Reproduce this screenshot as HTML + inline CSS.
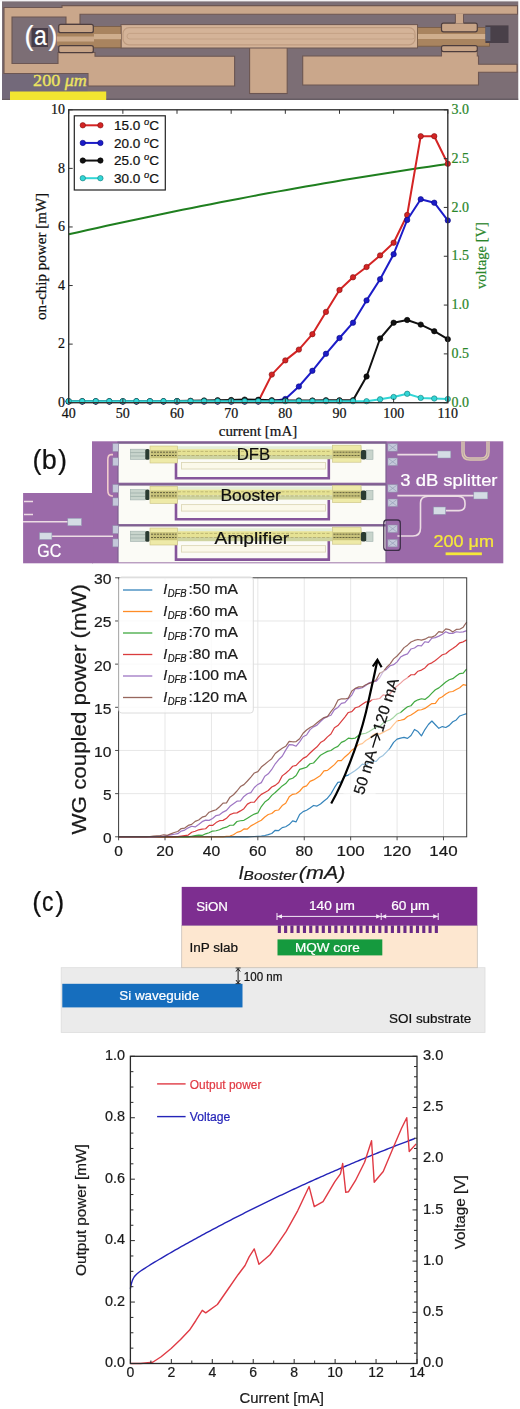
<!DOCTYPE html>
<html><head><meta charset="utf-8"><style>
html,body{margin:0;padding:0;background:#fff;}
body{width:520px;height:1409px;overflow:hidden;font-family:"Liberation Sans",sans-serif;}
svg{display:block;}
</style></head><body>
<svg width="520" height="1409" viewBox="0 0 520 1409">
<rect width="520" height="1409" fill="#fff"/>
<defs><filter id="mblur" x="-2%" y="-2%" width="104%" height="104%"><feGaussianBlur stdDeviation="0.45"/></filter></defs><g filter="url(#mblur)">
<rect x="2" y="0" width="516.5" height="100" fill="#7b6e74"/>
<rect x="2" y="98.5" width="516.5" height="1.5" fill="#665c64"/>
<rect x="0" y="0" width="520" height="1.4" fill="#f4f2f4"/>
<path d="M4 7.5 H62 V5.6 H517.5 V14.2 H80 V24.4 H66 V17 H12 V63.5 H58 V52.5 H95 V56.3 H234.6 V86 H88 V73.5 H4 Z" fill="#caa78b" stroke="#6c5652" stroke-width="1.1"/>
<path d="M302.7 56 H441.5 V51 H477.3 V56 H478.5 V64.2 H517 V72.3 H478.5 V85 H302.7 Z" fill="#caa78b" stroke="#6c5652" stroke-width="1.1"/>
<rect x="2" y="74.1" width="85.4" height="24.4" fill="#73697a"/>
<rect x="249.6" y="44" width="37.6" height="49.5" fill="#caa78b" stroke="#6c5652" stroke-width="1.1"/>
<rect x="121" y="24.6" width="296.5" height="23.4" fill="#d4b398" stroke="#6c5652" stroke-width="1.0"/>
<rect x="123" y="27.6" width="292" height="17.2" rx="6" fill="none" stroke="#bf9c80" stroke-width="1.2"/>
<rect x="127" y="33.4" width="288" height="5.6" rx="2.8" fill="none" stroke="#c4a286" stroke-width="1"/>
<rect x="93" y="26.5" width="28" height="21.3" fill="#a9845f" stroke="#7a5e48" stroke-width="0.9"/>
<rect x="94" y="34" width="27" height="5.2" fill="#cfae8d"/>
<rect x="57" y="32.7" width="37" height="13" fill="#a9845f"/>
<rect x="57" y="36.5" width="37" height="5" fill="#cba98a"/>
<rect x="58.7" y="24.4" width="34.6" height="8.3" fill="#c7a487" stroke="#4e3e3e" stroke-width="1.2" rx="2"/>
<rect x="58.7" y="45.6" width="34.6" height="7.1" fill="#c7a487" stroke="#4e3e3e" stroke-width="1.2" rx="2"/>
<rect x="417.5" y="27.5" width="72" height="18.7" fill="#a9845f" stroke="#7a5e48" stroke-width="0.9"/>
<rect x="418" y="34" width="72" height="5" fill="#cfae8d"/>
<rect x="441.5" y="23.1" width="35.8" height="8.7" fill="#c7a487" stroke="#4e3e3e" stroke-width="1.2" rx="2"/>
<rect x="441.5" y="45.6" width="35.8" height="6" fill="#c7a487" stroke="#4e3e3e" stroke-width="1.2" rx="2"/>
<rect x="455.4" y="13.6" width="8.1" height="10" fill="#caa78b"/>
<path d="M455.4 14.2 V23.1 M463.5 14.2 V23.1" stroke="#6c5652" stroke-width="1"/>
<rect x="485.4" y="25.4" width="23.1" height="17.6" fill="#4a4048"/>
<rect x="485.4" y="27" width="5" height="14" fill="#6a7088" opacity="0.7"/>
<rect x="518.5" y="0" width="1.5" height="100" fill="#fff"/>
</g>
<rect x="31.5" y="28" width="16.5" height="19" fill="#463e48" filter="url(#mblur)"/>
<text x="24.5" y="45.3" font-family="Liberation Sans" font-size="27" fill="#fff" stroke="#fff" stroke-width="0.22">(</text>
<text x="33.9" y="45.3" font-family="Liberation Sans" font-size="27" fill="#fff" textLength="12.8" lengthAdjust="spacingAndGlyphs" stroke="#fff" stroke-width="0.22">a</text>
<text x="48.5" y="45.3" font-family="Liberation Sans" font-size="27" fill="#fff" stroke="#fff" stroke-width="0.22">)</text>
<rect x="10" y="91.5" width="96.2" height="8.5" fill="#f2e531"/>
<text x="33.1" y="86.2" font-family="Liberation Serif" font-size="17" fill="#eee460" textLength="53.8" lengthAdjust="spacingAndGlyphs" stroke="#eee460" stroke-width="0.35">200 <tspan font-style="italic">μm</tspan></text>
<polyline fill="none" stroke="#1f7f1f" stroke-width="2" points="68.7,234.34 78.18,232.18 87.66,230.05 97.13,227.94 106.61,225.85 116.09,223.77 125.57,221.72 135.04,219.69 144.52,217.68 154,215.69 163.48,213.72 172.95,211.76 182.43,209.83 191.91,207.92 201.38,206.03 210.86,204.16 220.34,202.31 229.82,200.47 239.3,198.66 248.77,196.87 258.25,195.1 267.73,193.35 277.21,191.62 286.68,189.91 296.16,188.22 305.64,186.55 315.12,184.9 324.59,183.27 334.07,181.66 343.55,180.06 353.02,178.49 362.5,176.94 371.98,175.41 381.46,173.9 390.94,172.41 400.41,170.94 409.89,169.49 419.37,168.06 428.85,166.65 438.32,165.26 447.8,163.89"/>
<polyline fill="none" stroke="#d42424" stroke-width="2" stroke-linejoin="round" points="68.7,401.6 82.24,401.6 95.78,401.6 109.32,401.6 122.86,401.6 136.4,401.6 149.94,401.6 163.48,401.6 177.01,401.6 190.55,401.6 204.09,401.6 217.63,401.6 231.17,401.6 244.71,401.6 258.25,401.5 271.79,374.6 285.33,360.4 298.87,349.6 312.41,334.2 325.95,311.9 339.49,290 353.02,277.3 366.56,267 380.1,255.4 393.64,242.7 407.18,215 420.72,136.2 434.26,136.2 447.8,163.8"/>
<circle cx="68.7" cy="401.6" r="2.7" fill="#d42424" stroke="#801010" stroke-width="0.6"/>
<circle cx="82.24" cy="401.6" r="2.7" fill="#d42424" stroke="#801010" stroke-width="0.6"/>
<circle cx="95.78" cy="401.6" r="2.7" fill="#d42424" stroke="#801010" stroke-width="0.6"/>
<circle cx="109.32" cy="401.6" r="2.7" fill="#d42424" stroke="#801010" stroke-width="0.6"/>
<circle cx="122.86" cy="401.6" r="2.7" fill="#d42424" stroke="#801010" stroke-width="0.6"/>
<circle cx="136.4" cy="401.6" r="2.7" fill="#d42424" stroke="#801010" stroke-width="0.6"/>
<circle cx="149.94" cy="401.6" r="2.7" fill="#d42424" stroke="#801010" stroke-width="0.6"/>
<circle cx="163.48" cy="401.6" r="2.7" fill="#d42424" stroke="#801010" stroke-width="0.6"/>
<circle cx="177.01" cy="401.6" r="2.7" fill="#d42424" stroke="#801010" stroke-width="0.6"/>
<circle cx="190.55" cy="401.6" r="2.7" fill="#d42424" stroke="#801010" stroke-width="0.6"/>
<circle cx="204.09" cy="401.6" r="2.7" fill="#d42424" stroke="#801010" stroke-width="0.6"/>
<circle cx="217.63" cy="401.6" r="2.7" fill="#d42424" stroke="#801010" stroke-width="0.6"/>
<circle cx="231.17" cy="401.6" r="2.7" fill="#d42424" stroke="#801010" stroke-width="0.6"/>
<circle cx="244.71" cy="401.6" r="2.7" fill="#d42424" stroke="#801010" stroke-width="0.6"/>
<circle cx="258.25" cy="401.5" r="2.7" fill="#d42424" stroke="#801010" stroke-width="0.6"/>
<circle cx="271.79" cy="374.6" r="2.7" fill="#d42424" stroke="#801010" stroke-width="0.6"/>
<circle cx="285.33" cy="360.4" r="2.7" fill="#d42424" stroke="#801010" stroke-width="0.6"/>
<circle cx="298.87" cy="349.6" r="2.7" fill="#d42424" stroke="#801010" stroke-width="0.6"/>
<circle cx="312.41" cy="334.2" r="2.7" fill="#d42424" stroke="#801010" stroke-width="0.6"/>
<circle cx="325.95" cy="311.9" r="2.7" fill="#d42424" stroke="#801010" stroke-width="0.6"/>
<circle cx="339.49" cy="290" r="2.7" fill="#d42424" stroke="#801010" stroke-width="0.6"/>
<circle cx="353.02" cy="277.3" r="2.7" fill="#d42424" stroke="#801010" stroke-width="0.6"/>
<circle cx="366.56" cy="267" r="2.7" fill="#d42424" stroke="#801010" stroke-width="0.6"/>
<circle cx="380.1" cy="255.4" r="2.7" fill="#d42424" stroke="#801010" stroke-width="0.6"/>
<circle cx="393.64" cy="242.7" r="2.7" fill="#d42424" stroke="#801010" stroke-width="0.6"/>
<circle cx="407.18" cy="215" r="2.7" fill="#d42424" stroke="#801010" stroke-width="0.6"/>
<circle cx="420.72" cy="136.2" r="2.7" fill="#d42424" stroke="#801010" stroke-width="0.6"/>
<circle cx="434.26" cy="136.2" r="2.7" fill="#d42424" stroke="#801010" stroke-width="0.6"/>
<circle cx="447.8" cy="163.8" r="2.7" fill="#d42424" stroke="#801010" stroke-width="0.6"/>
<polyline fill="none" stroke="#1c1cc8" stroke-width="2" stroke-linejoin="round" points="68.7,401.5 82.24,401.5 95.78,401.5 109.32,401.5 122.86,401.5 136.4,401.5 149.94,401.5 163.48,401.5 177.01,401.5 190.55,401.5 204.09,401.5 217.63,401.5 231.17,401.5 244.71,401.5 258.25,401.5 271.79,401.2 285.33,399 298.87,386.5 312.41,370.8 325.95,353.8 339.49,338 353.02,322.7 366.56,300.4 380.1,279.2 393.64,254.2 407.18,220 420.72,199.2 434.26,202.7 447.8,220.4"/>
<circle cx="68.7" cy="401.5" r="2.7" fill="#1c1cc8" stroke="#0a0a80" stroke-width="0.6"/>
<circle cx="82.24" cy="401.5" r="2.7" fill="#1c1cc8" stroke="#0a0a80" stroke-width="0.6"/>
<circle cx="95.78" cy="401.5" r="2.7" fill="#1c1cc8" stroke="#0a0a80" stroke-width="0.6"/>
<circle cx="109.32" cy="401.5" r="2.7" fill="#1c1cc8" stroke="#0a0a80" stroke-width="0.6"/>
<circle cx="122.86" cy="401.5" r="2.7" fill="#1c1cc8" stroke="#0a0a80" stroke-width="0.6"/>
<circle cx="136.4" cy="401.5" r="2.7" fill="#1c1cc8" stroke="#0a0a80" stroke-width="0.6"/>
<circle cx="149.94" cy="401.5" r="2.7" fill="#1c1cc8" stroke="#0a0a80" stroke-width="0.6"/>
<circle cx="163.48" cy="401.5" r="2.7" fill="#1c1cc8" stroke="#0a0a80" stroke-width="0.6"/>
<circle cx="177.01" cy="401.5" r="2.7" fill="#1c1cc8" stroke="#0a0a80" stroke-width="0.6"/>
<circle cx="190.55" cy="401.5" r="2.7" fill="#1c1cc8" stroke="#0a0a80" stroke-width="0.6"/>
<circle cx="204.09" cy="401.5" r="2.7" fill="#1c1cc8" stroke="#0a0a80" stroke-width="0.6"/>
<circle cx="217.63" cy="401.5" r="2.7" fill="#1c1cc8" stroke="#0a0a80" stroke-width="0.6"/>
<circle cx="231.17" cy="401.5" r="2.7" fill="#1c1cc8" stroke="#0a0a80" stroke-width="0.6"/>
<circle cx="244.71" cy="401.5" r="2.7" fill="#1c1cc8" stroke="#0a0a80" stroke-width="0.6"/>
<circle cx="258.25" cy="401.5" r="2.7" fill="#1c1cc8" stroke="#0a0a80" stroke-width="0.6"/>
<circle cx="271.79" cy="401.2" r="2.7" fill="#1c1cc8" stroke="#0a0a80" stroke-width="0.6"/>
<circle cx="285.33" cy="399" r="2.7" fill="#1c1cc8" stroke="#0a0a80" stroke-width="0.6"/>
<circle cx="298.87" cy="386.5" r="2.7" fill="#1c1cc8" stroke="#0a0a80" stroke-width="0.6"/>
<circle cx="312.41" cy="370.8" r="2.7" fill="#1c1cc8" stroke="#0a0a80" stroke-width="0.6"/>
<circle cx="325.95" cy="353.8" r="2.7" fill="#1c1cc8" stroke="#0a0a80" stroke-width="0.6"/>
<circle cx="339.49" cy="338" r="2.7" fill="#1c1cc8" stroke="#0a0a80" stroke-width="0.6"/>
<circle cx="353.02" cy="322.7" r="2.7" fill="#1c1cc8" stroke="#0a0a80" stroke-width="0.6"/>
<circle cx="366.56" cy="300.4" r="2.7" fill="#1c1cc8" stroke="#0a0a80" stroke-width="0.6"/>
<circle cx="380.1" cy="279.2" r="2.7" fill="#1c1cc8" stroke="#0a0a80" stroke-width="0.6"/>
<circle cx="393.64" cy="254.2" r="2.7" fill="#1c1cc8" stroke="#0a0a80" stroke-width="0.6"/>
<circle cx="407.18" cy="220" r="2.7" fill="#1c1cc8" stroke="#0a0a80" stroke-width="0.6"/>
<circle cx="420.72" cy="199.2" r="2.7" fill="#1c1cc8" stroke="#0a0a80" stroke-width="0.6"/>
<circle cx="434.26" cy="202.7" r="2.7" fill="#1c1cc8" stroke="#0a0a80" stroke-width="0.6"/>
<circle cx="447.8" cy="220.4" r="2.7" fill="#1c1cc8" stroke="#0a0a80" stroke-width="0.6"/>
<polyline fill="none" stroke="#111" stroke-width="2" stroke-linejoin="round" points="68.7,401.3 82.24,401.3 95.78,401.3 109.32,401.3 122.86,401.3 136.4,401.3 149.94,401.3 163.48,401.3 177.01,401 190.55,400.8 204.09,400.5 217.63,400.2 231.17,400 244.71,399.6 258.25,399.8 271.79,400.2 285.33,400.5 298.87,400.5 312.41,400.5 325.95,400.3 339.49,400.3 353.02,400.3 366.56,376.5 380.1,338.5 393.64,322.7 407.18,320 420.72,324.6 434.26,331.2 447.8,339.2"/>
<circle cx="68.7" cy="401.3" r="2.7" fill="#111" stroke="#000" stroke-width="0.6"/>
<circle cx="82.24" cy="401.3" r="2.7" fill="#111" stroke="#000" stroke-width="0.6"/>
<circle cx="95.78" cy="401.3" r="2.7" fill="#111" stroke="#000" stroke-width="0.6"/>
<circle cx="109.32" cy="401.3" r="2.7" fill="#111" stroke="#000" stroke-width="0.6"/>
<circle cx="122.86" cy="401.3" r="2.7" fill="#111" stroke="#000" stroke-width="0.6"/>
<circle cx="136.4" cy="401.3" r="2.7" fill="#111" stroke="#000" stroke-width="0.6"/>
<circle cx="149.94" cy="401.3" r="2.7" fill="#111" stroke="#000" stroke-width="0.6"/>
<circle cx="163.48" cy="401.3" r="2.7" fill="#111" stroke="#000" stroke-width="0.6"/>
<circle cx="177.01" cy="401" r="2.7" fill="#111" stroke="#000" stroke-width="0.6"/>
<circle cx="190.55" cy="400.8" r="2.7" fill="#111" stroke="#000" stroke-width="0.6"/>
<circle cx="204.09" cy="400.5" r="2.7" fill="#111" stroke="#000" stroke-width="0.6"/>
<circle cx="217.63" cy="400.2" r="2.7" fill="#111" stroke="#000" stroke-width="0.6"/>
<circle cx="231.17" cy="400" r="2.7" fill="#111" stroke="#000" stroke-width="0.6"/>
<circle cx="244.71" cy="399.6" r="2.7" fill="#111" stroke="#000" stroke-width="0.6"/>
<circle cx="258.25" cy="399.8" r="2.7" fill="#111" stroke="#000" stroke-width="0.6"/>
<circle cx="271.79" cy="400.2" r="2.7" fill="#111" stroke="#000" stroke-width="0.6"/>
<circle cx="285.33" cy="400.5" r="2.7" fill="#111" stroke="#000" stroke-width="0.6"/>
<circle cx="298.87" cy="400.5" r="2.7" fill="#111" stroke="#000" stroke-width="0.6"/>
<circle cx="312.41" cy="400.5" r="2.7" fill="#111" stroke="#000" stroke-width="0.6"/>
<circle cx="325.95" cy="400.3" r="2.7" fill="#111" stroke="#000" stroke-width="0.6"/>
<circle cx="339.49" cy="400.3" r="2.7" fill="#111" stroke="#000" stroke-width="0.6"/>
<circle cx="353.02" cy="400.3" r="2.7" fill="#111" stroke="#000" stroke-width="0.6"/>
<circle cx="366.56" cy="376.5" r="2.7" fill="#111" stroke="#000" stroke-width="0.6"/>
<circle cx="380.1" cy="338.5" r="2.7" fill="#111" stroke="#000" stroke-width="0.6"/>
<circle cx="393.64" cy="322.7" r="2.7" fill="#111" stroke="#000" stroke-width="0.6"/>
<circle cx="407.18" cy="320" r="2.7" fill="#111" stroke="#000" stroke-width="0.6"/>
<circle cx="420.72" cy="324.6" r="2.7" fill="#111" stroke="#000" stroke-width="0.6"/>
<circle cx="434.26" cy="331.2" r="2.7" fill="#111" stroke="#000" stroke-width="0.6"/>
<circle cx="447.8" cy="339.2" r="2.7" fill="#111" stroke="#000" stroke-width="0.6"/>
<polyline fill="none" stroke="#33d6d6" stroke-width="2" stroke-linejoin="round" points="68.7,401.2 82.24,401.2 95.78,401.2 109.32,401.2 122.86,401.2 136.4,401.2 149.94,401.2 163.48,401.2 177.01,401.2 190.55,401.2 204.09,401.2 217.63,401.2 231.17,401.2 244.71,401.2 258.25,401.2 271.79,401.2 285.33,401.2 298.87,401.2 312.41,401.2 325.95,401.2 339.49,401.2 353.02,401.2 366.56,401.2 380.1,399.3 393.64,397 407.18,393.8 420.72,397.9 434.26,398.5 447.8,399"/>
<circle cx="68.7" cy="401.2" r="2.7" fill="#33d6d6" stroke="#117777" stroke-width="0.6"/>
<circle cx="82.24" cy="401.2" r="2.7" fill="#33d6d6" stroke="#117777" stroke-width="0.6"/>
<circle cx="95.78" cy="401.2" r="2.7" fill="#33d6d6" stroke="#117777" stroke-width="0.6"/>
<circle cx="109.32" cy="401.2" r="2.7" fill="#33d6d6" stroke="#117777" stroke-width="0.6"/>
<circle cx="122.86" cy="401.2" r="2.7" fill="#33d6d6" stroke="#117777" stroke-width="0.6"/>
<circle cx="136.4" cy="401.2" r="2.7" fill="#33d6d6" stroke="#117777" stroke-width="0.6"/>
<circle cx="149.94" cy="401.2" r="2.7" fill="#33d6d6" stroke="#117777" stroke-width="0.6"/>
<circle cx="163.48" cy="401.2" r="2.7" fill="#33d6d6" stroke="#117777" stroke-width="0.6"/>
<circle cx="177.01" cy="401.2" r="2.7" fill="#33d6d6" stroke="#117777" stroke-width="0.6"/>
<circle cx="190.55" cy="401.2" r="2.7" fill="#33d6d6" stroke="#117777" stroke-width="0.6"/>
<circle cx="204.09" cy="401.2" r="2.7" fill="#33d6d6" stroke="#117777" stroke-width="0.6"/>
<circle cx="217.63" cy="401.2" r="2.7" fill="#33d6d6" stroke="#117777" stroke-width="0.6"/>
<circle cx="231.17" cy="401.2" r="2.7" fill="#33d6d6" stroke="#117777" stroke-width="0.6"/>
<circle cx="244.71" cy="401.2" r="2.7" fill="#33d6d6" stroke="#117777" stroke-width="0.6"/>
<circle cx="258.25" cy="401.2" r="2.7" fill="#33d6d6" stroke="#117777" stroke-width="0.6"/>
<circle cx="271.79" cy="401.2" r="2.7" fill="#33d6d6" stroke="#117777" stroke-width="0.6"/>
<circle cx="285.33" cy="401.2" r="2.7" fill="#33d6d6" stroke="#117777" stroke-width="0.6"/>
<circle cx="298.87" cy="401.2" r="2.7" fill="#33d6d6" stroke="#117777" stroke-width="0.6"/>
<circle cx="312.41" cy="401.2" r="2.7" fill="#33d6d6" stroke="#117777" stroke-width="0.6"/>
<circle cx="325.95" cy="401.2" r="2.7" fill="#33d6d6" stroke="#117777" stroke-width="0.6"/>
<circle cx="339.49" cy="401.2" r="2.7" fill="#33d6d6" stroke="#117777" stroke-width="0.6"/>
<circle cx="353.02" cy="401.2" r="2.7" fill="#33d6d6" stroke="#117777" stroke-width="0.6"/>
<circle cx="366.56" cy="401.2" r="2.7" fill="#33d6d6" stroke="#117777" stroke-width="0.6"/>
<circle cx="380.1" cy="399.3" r="2.7" fill="#33d6d6" stroke="#117777" stroke-width="0.6"/>
<circle cx="393.64" cy="397" r="2.7" fill="#33d6d6" stroke="#117777" stroke-width="0.6"/>
<circle cx="407.18" cy="393.8" r="2.7" fill="#33d6d6" stroke="#117777" stroke-width="0.6"/>
<circle cx="420.72" cy="397.9" r="2.7" fill="#33d6d6" stroke="#117777" stroke-width="0.6"/>
<circle cx="434.26" cy="398.5" r="2.7" fill="#33d6d6" stroke="#117777" stroke-width="0.6"/>
<circle cx="447.8" cy="399" r="2.7" fill="#33d6d6" stroke="#117777" stroke-width="0.6"/>
<rect x="68.7" y="109.8" width="379.1" height="292.9" fill="none" stroke="#333" stroke-width="1.4"/>
<line x1="68.7" y1="402.7" x2="68.7" y2="398.7" stroke="#333" stroke-width="1"/>
<line x1="68.7" y1="109.8" x2="68.7" y2="113.8" stroke="#333" stroke-width="1"/>
<text x="68.7" y="417.5" font-family="Liberation Serif" font-size="14" fill="#111" text-anchor="middle" stroke="#111" stroke-width="0.22">40</text>
<line x1="122.86" y1="402.7" x2="122.86" y2="398.7" stroke="#333" stroke-width="1"/>
<line x1="122.86" y1="109.8" x2="122.86" y2="113.8" stroke="#333" stroke-width="1"/>
<text x="122.86" y="417.5" font-family="Liberation Serif" font-size="14" fill="#111" text-anchor="middle" stroke="#111" stroke-width="0.22">50</text>
<line x1="177.01" y1="402.7" x2="177.01" y2="398.7" stroke="#333" stroke-width="1"/>
<line x1="177.01" y1="109.8" x2="177.01" y2="113.8" stroke="#333" stroke-width="1"/>
<text x="177.01" y="417.5" font-family="Liberation Serif" font-size="14" fill="#111" text-anchor="middle" stroke="#111" stroke-width="0.22">60</text>
<line x1="231.17" y1="402.7" x2="231.17" y2="398.7" stroke="#333" stroke-width="1"/>
<line x1="231.17" y1="109.8" x2="231.17" y2="113.8" stroke="#333" stroke-width="1"/>
<text x="231.17" y="417.5" font-family="Liberation Serif" font-size="14" fill="#111" text-anchor="middle" stroke="#111" stroke-width="0.22">70</text>
<line x1="285.33" y1="402.7" x2="285.33" y2="398.7" stroke="#333" stroke-width="1"/>
<line x1="285.33" y1="109.8" x2="285.33" y2="113.8" stroke="#333" stroke-width="1"/>
<text x="285.33" y="417.5" font-family="Liberation Serif" font-size="14" fill="#111" text-anchor="middle" stroke="#111" stroke-width="0.22">80</text>
<line x1="339.49" y1="402.7" x2="339.49" y2="398.7" stroke="#333" stroke-width="1"/>
<line x1="339.49" y1="109.8" x2="339.49" y2="113.8" stroke="#333" stroke-width="1"/>
<text x="339.49" y="417.5" font-family="Liberation Serif" font-size="14" fill="#111" text-anchor="middle" stroke="#111" stroke-width="0.22">90</text>
<line x1="393.64" y1="402.7" x2="393.64" y2="398.7" stroke="#333" stroke-width="1"/>
<line x1="393.64" y1="109.8" x2="393.64" y2="113.8" stroke="#333" stroke-width="1"/>
<text x="393.64" y="417.5" font-family="Liberation Serif" font-size="14" fill="#111" text-anchor="middle" stroke="#111" stroke-width="0.22">100</text>
<line x1="447.8" y1="402.7" x2="447.8" y2="398.7" stroke="#333" stroke-width="1"/>
<line x1="447.8" y1="109.8" x2="447.8" y2="113.8" stroke="#333" stroke-width="1"/>
<text x="447.8" y="417.5" font-family="Liberation Serif" font-size="14" fill="#111" text-anchor="middle" stroke="#111" stroke-width="0.22">110</text>
<line x1="68.7" y1="402.7" x2="72.7" y2="402.7" stroke="#333" stroke-width="1"/>
<text x="65" y="407" font-family="Liberation Serif" font-size="14" fill="#111" text-anchor="end" stroke="#111" stroke-width="0.22">0</text>
<line x1="68.7" y1="344.12" x2="72.7" y2="344.12" stroke="#333" stroke-width="1"/>
<text x="65" y="348.42" font-family="Liberation Serif" font-size="14" fill="#111" text-anchor="end" stroke="#111" stroke-width="0.22">2</text>
<line x1="68.7" y1="285.54" x2="72.7" y2="285.54" stroke="#333" stroke-width="1"/>
<text x="65" y="289.84" font-family="Liberation Serif" font-size="14" fill="#111" text-anchor="end" stroke="#111" stroke-width="0.22">4</text>
<line x1="68.7" y1="226.96" x2="72.7" y2="226.96" stroke="#333" stroke-width="1"/>
<text x="65" y="231.26" font-family="Liberation Serif" font-size="14" fill="#111" text-anchor="end" stroke="#111" stroke-width="0.22">6</text>
<line x1="68.7" y1="168.38" x2="72.7" y2="168.38" stroke="#333" stroke-width="1"/>
<text x="65" y="172.68" font-family="Liberation Serif" font-size="14" fill="#111" text-anchor="end" stroke="#111" stroke-width="0.22">8</text>
<line x1="68.7" y1="109.8" x2="72.7" y2="109.8" stroke="#333" stroke-width="1"/>
<text x="65" y="114.1" font-family="Liberation Serif" font-size="14" fill="#111" text-anchor="end" stroke="#111" stroke-width="0.22">10</text>
<line x1="447.8" y1="402.7" x2="443.8" y2="402.7" stroke="#333" stroke-width="1"/>
<text x="451.5" y="406.9" font-family="Liberation Serif" font-size="14" fill="#2a862a" stroke="#2a862a" stroke-width="0.22">0.0</text>
<line x1="447.8" y1="353.88" x2="443.8" y2="353.88" stroke="#333" stroke-width="1"/>
<text x="451.5" y="358.08" font-family="Liberation Serif" font-size="14" fill="#2a862a" stroke="#2a862a" stroke-width="0.22">0.5</text>
<line x1="447.8" y1="305.07" x2="443.8" y2="305.07" stroke="#333" stroke-width="1"/>
<text x="451.5" y="309.27" font-family="Liberation Serif" font-size="14" fill="#2a862a" stroke="#2a862a" stroke-width="0.22">1.0</text>
<line x1="447.8" y1="256.25" x2="443.8" y2="256.25" stroke="#333" stroke-width="1"/>
<text x="451.5" y="260.45" font-family="Liberation Serif" font-size="14" fill="#2a862a" stroke="#2a862a" stroke-width="0.22">1.5</text>
<line x1="447.8" y1="207.43" x2="443.8" y2="207.43" stroke="#333" stroke-width="1"/>
<text x="451.5" y="211.63" font-family="Liberation Serif" font-size="14" fill="#2a862a" stroke="#2a862a" stroke-width="0.22">2.0</text>
<line x1="447.8" y1="158.62" x2="443.8" y2="158.62" stroke="#333" stroke-width="1"/>
<text x="451.5" y="162.82" font-family="Liberation Serif" font-size="14" fill="#2a862a" stroke="#2a862a" stroke-width="0.22">2.5</text>
<line x1="447.8" y1="109.8" x2="443.8" y2="109.8" stroke="#333" stroke-width="1"/>
<text x="451.5" y="114" font-family="Liberation Serif" font-size="14" fill="#2a862a" stroke="#2a862a" stroke-width="0.22">3.0</text>
<text x="258" y="435.8" font-family="Liberation Serif" font-size="15" fill="#111" text-anchor="middle" textLength="78.5" lengthAdjust="spacingAndGlyphs" stroke="#111" stroke-width="0.22">current [mA]</text>
<g transform="translate(45.5,256.4) rotate(-90)"><text x="0" y="0" font-family="Liberation Serif" font-size="15" fill="#111" text-anchor="middle" textLength="127" lengthAdjust="spacingAndGlyphs" stroke="#111" stroke-width="0.22">on-chip power [mW]</text></g>
<g transform="translate(486,255.5) rotate(-90)"><text x="0" y="0" font-family="Liberation Serif" font-size="15" fill="#2a862a" text-anchor="middle" textLength="67" lengthAdjust="spacingAndGlyphs" stroke="#2a862a" stroke-width="0.22">voltage [V]</text></g>
<rect x="74.3" y="115.8" width="91" height="74.2" fill="#fff" stroke="#222" stroke-width="1.2"/>
<line x1="82.8" y1="125.3" x2="100.4" y2="125.3" stroke="#d42424" stroke-width="2"/>
<circle cx="82.8" cy="125.3" r="2.7" fill="#d42424" stroke="#801010" stroke-width="0.6"/>
<circle cx="100.4" cy="125.3" r="2.7" fill="#d42424" stroke="#801010" stroke-width="0.6"/>
<text x="114.1" y="129.9" font-family="Liberation Sans" font-size="13" fill="#111" textLength="45" lengthAdjust="spacingAndGlyphs" stroke="#111" stroke-width="0.22">15.0 <tspan font-size="9" font-style="italic" dy="-5">o</tspan><tspan dy="5">C</tspan></text>
<line x1="82.8" y1="142.93" x2="100.4" y2="142.93" stroke="#1c1cc8" stroke-width="2"/>
<circle cx="82.8" cy="142.93" r="2.7" fill="#1c1cc8" stroke="#0a0a80" stroke-width="0.6"/>
<circle cx="100.4" cy="142.93" r="2.7" fill="#1c1cc8" stroke="#0a0a80" stroke-width="0.6"/>
<text x="114.1" y="147.53" font-family="Liberation Sans" font-size="13" fill="#111" textLength="45" lengthAdjust="spacingAndGlyphs" stroke="#111" stroke-width="0.22">20.0 <tspan font-size="9" font-style="italic" dy="-5">o</tspan><tspan dy="5">C</tspan></text>
<line x1="82.8" y1="160.56" x2="100.4" y2="160.56" stroke="#111" stroke-width="2"/>
<circle cx="82.8" cy="160.56" r="2.7" fill="#111" stroke="#000" stroke-width="0.6"/>
<circle cx="100.4" cy="160.56" r="2.7" fill="#111" stroke="#000" stroke-width="0.6"/>
<text x="114.1" y="165.16" font-family="Liberation Sans" font-size="13" fill="#111" textLength="45" lengthAdjust="spacingAndGlyphs" stroke="#111" stroke-width="0.22">25.0 <tspan font-size="9" font-style="italic" dy="-5">o</tspan><tspan dy="5">C</tspan></text>
<line x1="82.8" y1="178.19" x2="100.4" y2="178.19" stroke="#33d6d6" stroke-width="2"/>
<circle cx="82.8" cy="178.19" r="2.7" fill="#33d6d6" stroke="#117777" stroke-width="0.6"/>
<circle cx="100.4" cy="178.19" r="2.7" fill="#33d6d6" stroke="#117777" stroke-width="0.6"/>
<text x="114.1" y="182.79" font-family="Liberation Sans" font-size="13" fill="#111" textLength="45" lengthAdjust="spacingAndGlyphs" stroke="#111" stroke-width="0.22">30.0 <tspan font-size="9" font-style="italic" dy="-5">o</tspan><tspan dy="5">C</tspan></text>
<g filter="url(#mblur)">
<rect x="92" y="441.3" width="411.3" height="122" fill="#9b6aa9"/>
<rect x="23.1" y="493" width="70" height="70.3" fill="#9b6aa9"/>
<rect x="117.4" y="441.6" width="269.2" height="41.1" fill="#7e6090"/>
<rect x="118.6" y="443.8" width="266.8" height="38.9" fill="#fbfbf6"/>
<path d="M176 459 V478.2 H328.8 V459" fill="none" stroke="#85559a" stroke-width="2.6"/>
<rect x="181.5" y="462.5" width="144" height="6.5" fill="#fbf9ea" stroke="#dcd8b8" stroke-width="0.9"/>
<rect x="150" y="446.2" width="212" height="3" fill="#e4eed8"/>
<rect x="150" y="449.2" width="212" height="5.8" fill="#e6e294"/>
<rect x="150" y="455" width="212" height="4.2" fill="#cfd4a0"/>
<path d="M178 451.4 H330 M178 455.5 H330" stroke="#a8a060" stroke-width="0.8" stroke-dasharray="3 1.5" opacity="0.8"/>
<rect x="130.3" y="449.2" width="15" height="10.3" fill="#c8d4cc" stroke="#9fb0ac" stroke-width="0.6"/>
<path d="M130.3 452.6 H145.3 M130.3 456 H145.3" stroke="#98aaa4" stroke-width="0.7"/>
<rect x="145.3" y="449" width="4.2" height="10.7" rx="1.5" fill="#2c3a30"/>
<rect x="150" y="446" width="27.5" height="17" fill="#eeeaa8" stroke="#c8c080" stroke-width="0.6"/>
<rect x="150.5" y="450.2" width="26.5" height="8" fill="#c8c27a"/>
<path d="M151 452.2 H176.5 M151 455.5 H176.5" stroke="#4e4c30" stroke-width="1" stroke-dasharray="2 1" opacity="0.8"/>
<rect x="332.5" y="445.2" width="28.5" height="17" fill="#eeeaa8" stroke="#c8c080" stroke-width="0.6"/>
<rect x="333" y="450.2" width="27.5" height="8" fill="#c8c27a"/>
<path d="M333.5 452.2 H360 M333.5 455.5 H360" stroke="#4e4c30" stroke-width="1" stroke-dasharray="2 1" opacity="0.8"/>
<rect x="360.8" y="450" width="5.7" height="9.6" rx="2" fill="#2c3a30"/>
<rect x="366.5" y="450" width="6.5" height="9.4" fill="#c8d4cc" stroke="#9fb0ac" stroke-width="0.6"/>
<text x="253.5" y="459.9" font-family="Liberation Sans" font-size="17" fill="#111" text-anchor="middle" textLength="33.5" lengthAdjust="spacingAndGlyphs" stroke="#111" stroke-width="0.22">DFB</text>
<rect x="117.4" y="483.4" width="269.2" height="40.8" fill="#7e6090"/>
<rect x="118.6" y="485.6" width="266.8" height="38.6" fill="#fbfbf6"/>
<path d="M176 500 V519.2 H328.8 V500" fill="none" stroke="#85559a" stroke-width="2.6"/>
<rect x="181.5" y="504.6" width="144" height="6.5" fill="#fbf9ea" stroke="#dcd8b8" stroke-width="0.9"/>
<rect x="150" y="486.6" width="212" height="3" fill="#e4eed8"/>
<rect x="150" y="489.6" width="212" height="5.8" fill="#e6e294"/>
<rect x="150" y="495.4" width="212" height="4.2" fill="#cfd4a0"/>
<path d="M178 491.8 H330 M178 495.9 H330" stroke="#a8a060" stroke-width="0.8" stroke-dasharray="3 1.5" opacity="0.8"/>
<rect x="130.3" y="489.6" width="15" height="10.3" fill="#c8d4cc" stroke="#9fb0ac" stroke-width="0.6"/>
<path d="M130.3 493 H145.3 M130.3 496.4 H145.3" stroke="#98aaa4" stroke-width="0.7"/>
<rect x="145.3" y="489.4" width="4.2" height="10.7" rx="1.5" fill="#2c3a30"/>
<rect x="150" y="486.4" width="27.5" height="17" fill="#eeeaa8" stroke="#c8c080" stroke-width="0.6"/>
<rect x="150.5" y="490.6" width="26.5" height="8" fill="#c8c27a"/>
<path d="M151 492.6 H176.5 M151 495.9 H176.5" stroke="#4e4c30" stroke-width="1" stroke-dasharray="2 1" opacity="0.8"/>
<rect x="332.5" y="485.6" width="28.5" height="17" fill="#eeeaa8" stroke="#c8c080" stroke-width="0.6"/>
<rect x="333" y="490.6" width="27.5" height="8" fill="#c8c27a"/>
<path d="M333.5 492.6 H360 M333.5 495.9 H360" stroke="#4e4c30" stroke-width="1" stroke-dasharray="2 1" opacity="0.8"/>
<rect x="360.8" y="490.4" width="5.7" height="9.6" rx="2" fill="#2c3a30"/>
<rect x="366.5" y="490.4" width="6.5" height="9.4" fill="#c8d4cc" stroke="#9fb0ac" stroke-width="0.6"/>
<text x="250.6" y="501.2" font-family="Liberation Sans" font-size="17" fill="#111" text-anchor="middle" textLength="60.4" lengthAdjust="spacingAndGlyphs" stroke="#111" stroke-width="0.22">Booster</text>
<rect x="117.4" y="524.3" width="269.2" height="38.1" fill="#7e6090"/>
<rect x="118.6" y="526.5" width="266.8" height="35.9" fill="#fbfbf6"/>
<path d="M176 540.4 V559.6 H328.8 V540.4" fill="none" stroke="#85559a" stroke-width="2.6"/>
<rect x="181.5" y="545.6" width="144" height="6.5" fill="#fbf9ea" stroke="#dcd8b8" stroke-width="0.9"/>
<rect x="150" y="528.2" width="212" height="3" fill="#e4eed8"/>
<rect x="150" y="531.2" width="212" height="5.8" fill="#e6e294"/>
<rect x="150" y="537" width="212" height="4.2" fill="#cfd4a0"/>
<path d="M178 533.4 H330 M178 537.5 H330" stroke="#a8a060" stroke-width="0.8" stroke-dasharray="3 1.5" opacity="0.8"/>
<rect x="130.3" y="531.2" width="15" height="10.3" fill="#c8d4cc" stroke="#9fb0ac" stroke-width="0.6"/>
<path d="M130.3 534.6 H145.3 M130.3 538 H145.3" stroke="#98aaa4" stroke-width="0.7"/>
<rect x="145.3" y="531" width="4.2" height="10.7" rx="1.5" fill="#2c3a30"/>
<rect x="150" y="528" width="27.5" height="17" fill="#eeeaa8" stroke="#c8c080" stroke-width="0.6"/>
<rect x="150.5" y="532.2" width="26.5" height="8" fill="#c8c27a"/>
<path d="M151 534.2 H176.5 M151 537.5 H176.5" stroke="#4e4c30" stroke-width="1" stroke-dasharray="2 1" opacity="0.8"/>
<rect x="332.5" y="527.2" width="28.5" height="17" fill="#eeeaa8" stroke="#c8c080" stroke-width="0.6"/>
<rect x="333" y="532.2" width="27.5" height="8" fill="#c8c27a"/>
<path d="M333.5 534.2 H360 M333.5 537.5 H360" stroke="#4e4c30" stroke-width="1" stroke-dasharray="2 1" opacity="0.8"/>
<rect x="360.8" y="532" width="5.7" height="9.6" rx="2" fill="#2c3a30"/>
<rect x="366.5" y="532" width="6.5" height="9.4" fill="#c8d4cc" stroke="#9fb0ac" stroke-width="0.6"/>
<text x="251.9" y="543.5" font-family="Liberation Sans" font-size="17" fill="#111" text-anchor="middle" textLength="74.6" lengthAdjust="spacingAndGlyphs" stroke="#111" stroke-width="0.22">Amplifier</text>
<rect x="112.8" y="443.5" width="5.6" height="8" fill="#c4c8da" stroke="#8e8aa8" stroke-width="0.5"/>
<rect x="112.8" y="457.8" width="5.6" height="8" fill="#c4c8da" stroke="#8e8aa8" stroke-width="0.5"/>
<rect x="112.8" y="484.5" width="5.6" height="8" fill="#c4c8da" stroke="#8e8aa8" stroke-width="0.5"/>
<rect x="112.8" y="497.9" width="5.6" height="8" fill="#c4c8da" stroke="#8e8aa8" stroke-width="0.5"/>
<rect x="112.8" y="525.6" width="5.6" height="8" fill="#c4c8da" stroke="#8e8aa8" stroke-width="0.5"/>
<rect x="112.8" y="538.9" width="5.6" height="8" fill="#c4c8da" stroke="#8e8aa8" stroke-width="0.5"/>
<rect x="387.9" y="443.7" width="9.5" height="7.5" fill="#c4c8da" stroke="#8e8aa8" stroke-width="0.5"/>
<path d="M388.5 444.3 L396.8 450.6 M396.8 444.3 L388.5 450.6" stroke="#8e98b0" stroke-width="0.6"/>
<rect x="387.9" y="458" width="9.5" height="7.5" fill="#c4c8da" stroke="#8e8aa8" stroke-width="0.5"/>
<path d="M388.5 458.6 L396.8 464.9 M396.8 458.6 L388.5 464.9" stroke="#8e98b0" stroke-width="0.6"/>
<rect x="387.9" y="484.6" width="9.5" height="7.5" fill="#c4c8da" stroke="#8e8aa8" stroke-width="0.5"/>
<path d="M388.5 485.2 L396.8 491.5 M396.8 485.2 L388.5 491.5" stroke="#8e98b0" stroke-width="0.6"/>
<rect x="387.9" y="499" width="9.5" height="7.5" fill="#c4c8da" stroke="#8e8aa8" stroke-width="0.5"/>
<path d="M388.5 499.6 L396.8 505.9 M396.8 499.6 L388.5 505.9" stroke="#8e98b0" stroke-width="0.6"/>
<rect x="387.9" y="525" width="9.5" height="7.5" fill="#c4c8da" stroke="#8e8aa8" stroke-width="0.5"/>
<path d="M388.5 525.6 L396.8 531.9 M396.8 525.6 L388.5 531.9" stroke="#8e98b0" stroke-width="0.6"/>
<rect x="387.9" y="539.4" width="9.5" height="7.5" fill="#c4c8da" stroke="#8e8aa8" stroke-width="0.5"/>
<path d="M388.5 540 L396.8 546.3 M396.8 540 L388.5 546.3" stroke="#8e98b0" stroke-width="0.6"/>
<path d="M397.4 454.6 H437.8" stroke="#ecdce4" stroke-width="1.6" fill="none"/>
<rect x="437.8" y="451" width="13" height="7" fill="#d4dce4" stroke="#8e98b0" stroke-width="0.5"/>
<path d="M397.4 495.6 H473.8" stroke="#ecdce4" stroke-width="1.6" fill="none"/>
<rect x="473.8" y="492" width="13.9" height="7" fill="#d4dce4" stroke="#8e98b0" stroke-width="0.5"/>
<path d="M397.4 536 H413 Q420.5 536 420.5 528 V503 Q420.5 496.2 428 496.2 H458 Q465 496.2 465 503 V505 Q465 510.6 459 510.6 H445.6" stroke="#ecdce4" stroke-width="1.6" fill="none"/>
<rect x="433.5" y="507" width="12.1" height="7.3" fill="#d4dce4" stroke="#8e98b0" stroke-width="0.5"/>
<path d="M463 441.3 V452 Q463 459 470 459 H481 Q488 459 488 452 V441.3" stroke="#dcc8b0" stroke-width="3.5" fill="none"/>
<path d="M463 441.3 V452 Q463 459 470 459 H481 Q488 459 488 452 V441.3" stroke="#b8a0a8" stroke-width="1" fill="none"/>
<rect x="383.8" y="520" width="16.5" height="30.4" rx="3" fill="none" stroke="#3e2e4a" stroke-width="1.3"/>
<path d="M113 454.6 H111 Q107.8 454.6 107.8 460 V490 Q107.8 496 112 496 H113" stroke="#f0cccc" stroke-width="1.6" fill="none"/>
<path d="M23 521.8 H67.8" stroke="#ecdce4" stroke-width="1.6" fill="none"/>
<rect x="67.8" y="518.3" width="13.7" height="7.4" fill="#d4dce4" stroke="#8e98b0" stroke-width="0.5"/>
<path d="M51.9 536.2 H113" stroke="#ecdce4" stroke-width="1.6" fill="none"/>
<rect x="39.5" y="532.8" width="12.4" height="6.7" fill="#d4dce4" stroke="#8e98b0" stroke-width="0.5"/>
<path d="M24 501.5 H33 M24 514.5 H33" stroke="#ecdce4" stroke-width="1.6" fill="none"/>
</g>
<text x="37.2" y="557.3" font-family="Liberation Sans" font-size="18.5" fill="#fff" textLength="24" lengthAdjust="spacingAndGlyphs" stroke="#fff" stroke-width="0.22">GC</text>
<text x="400.3" y="485.5" font-family="Liberation Sans" font-size="16" fill="#fff" textLength="97.2" lengthAdjust="spacingAndGlyphs" stroke="#fff" stroke-width="0.22">3 dB splitter</text>
<text x="433.5" y="547" font-family="Liberation Sans" font-size="17" fill="#f6e83a" textLength="60.5" lengthAdjust="spacingAndGlyphs" stroke="#f6e83a" stroke-width="0.22">200 μm</text>
<rect x="445.6" y="552.4" width="36.3" height="2.8" fill="#f6e83a"/>
<text x="32.6" y="469.3" font-family="Liberation Sans" font-size="27" fill="#111" stroke="#111" stroke-width="0.22">(</text>
<text x="41.75" y="469.3" font-family="Liberation Sans" font-size="27" fill="#111" stroke="#111" stroke-width="0.22">b</text>
<text x="58.1" y="469.3" font-family="Liberation Sans" font-size="27" fill="#111" stroke="#111" stroke-width="0.22">)</text>
<line x1="165.01" y1="577.8" x2="165.01" y2="836.8" stroke="#e4e4e4" stroke-width="0.9"/>
<line x1="211.43" y1="577.8" x2="211.43" y2="836.8" stroke="#e4e4e4" stroke-width="0.9"/>
<line x1="257.84" y1="577.8" x2="257.84" y2="836.8" stroke="#e4e4e4" stroke-width="0.9"/>
<line x1="304.25" y1="577.8" x2="304.25" y2="836.8" stroke="#e4e4e4" stroke-width="0.9"/>
<line x1="350.67" y1="577.8" x2="350.67" y2="836.8" stroke="#e4e4e4" stroke-width="0.9"/>
<line x1="397.08" y1="577.8" x2="397.08" y2="836.8" stroke="#e4e4e4" stroke-width="0.9"/>
<line x1="443.49" y1="577.8" x2="443.49" y2="836.8" stroke="#e4e4e4" stroke-width="0.9"/>
<line x1="118.6" y1="793.63" x2="466.7" y2="793.63" stroke="#e4e4e4" stroke-width="0.9"/>
<line x1="118.6" y1="750.47" x2="466.7" y2="750.47" stroke="#e4e4e4" stroke-width="0.9"/>
<line x1="118.6" y1="707.3" x2="466.7" y2="707.3" stroke="#e4e4e4" stroke-width="0.9"/>
<line x1="118.6" y1="664.13" x2="466.7" y2="664.13" stroke="#e4e4e4" stroke-width="0.9"/>
<line x1="118.6" y1="620.97" x2="466.7" y2="620.97" stroke="#e4e4e4" stroke-width="0.9"/>
<polyline fill="none" stroke="#1f77b4" stroke-width="1.2" stroke-opacity="0.9" stroke-linejoin="round" points="118.6,836.8 122.08,836.8 125.56,836.8 129.04,836.8 132.52,836.8 136,836.8 139.49,836.8 142.97,836.8 146.45,836.8 149.93,836.8 153.41,836.8 156.89,836.8 160.37,836.8 163.85,836.8 167.33,836.8 170.81,836.8 174.3,836.8 177.78,836.8 181.26,836.8 184.74,836.8 188.22,836.8 191.7,836.8 195.18,836.8 198.66,836.8 202.14,836.8 205.62,836.8 209.11,836.8 212.59,836.8 216.07,836.8 219.55,836.8 223.03,836.8 226.51,836.8 229.99,836.8 233.47,836.8 236.95,836.8 240.44,836.8 243.92,836.8 247.4,836.8 250.88,836.77 254.36,836.52 257.84,836.27 261.32,836.02 264.8,835.54 268.28,834.63 271.76,833.51 275.25,830.29 278.73,830.53 282.21,827.64 285.69,826.72 289.17,824.58 292.65,820.85 296.13,821.83 299.61,814.41 303.09,811.64 306.57,810.31 310.06,808 313.54,805.47 317.02,806.09 320.5,804.02 323.98,801 327.46,798.24 330.94,793.83 334.42,787.68 337.9,782.4 341.38,781.82 344.87,776.05 348.35,775.05 351.83,772.72 355.31,770.41 358.79,767.75 362.27,764.11 365.75,764.81 369.23,762.59 372.71,761.44 376.19,761.29 379.67,757.4 383.16,755.4 386.64,751.89 390.12,747.93 393.6,742.38 397.08,739.1 400.56,738.09 404.04,737.41 407.52,738.41 411,735.44 414.49,729.45 417.97,731.56 421.45,735.87 424.93,729.55 428.41,724.49 431.89,721.03 435.37,724.72 438.85,728.34 442.33,726.57 445.81,727.48 449.29,725.37 452.78,721.79 456.26,719.97 459.74,715.97 463.22,714.78 466.7,713.68"/>
<polyline fill="none" stroke="#ff7f0e" stroke-width="1.2" stroke-opacity="0.9" stroke-linejoin="round" points="118.6,836.8 122.08,836.8 125.56,836.8 129.04,836.8 132.52,836.8 136,836.8 139.49,836.8 142.97,836.8 146.45,836.8 149.93,836.8 153.41,836.8 156.89,836.8 160.37,836.8 163.85,836.8 167.33,836.8 170.81,836.8 174.3,836.8 177.78,836.8 181.26,836.8 184.74,836.8 188.22,836.8 191.7,836.8 195.18,836.8 198.66,836.8 202.14,836.8 205.62,836.8 209.11,836.8 212.59,836.8 216.07,836.8 219.55,836.8 223.03,836.8 226.51,836.42 229.99,836.04 233.47,834.78 236.95,832.38 240.44,831.4 243.92,828.89 247.4,829.06 250.88,825.87 254.36,824.08 257.84,822.02 261.32,820.3 264.8,817 268.28,814.48 271.76,813.53 275.25,810.52 278.73,809.98 282.21,805.57 285.69,803.32 289.17,796.85 292.65,794.32 296.13,793.78 299.61,791.26 303.09,787.18 306.57,785.84 310.06,781.37 313.54,779.88 317.02,777.64 320.5,775.41 323.98,770.81 327.46,770.39 330.94,767.55 334.42,764.61 337.9,760.62 341.38,760.58 344.87,756.94 348.35,754.07 351.83,750.22 355.31,747.61 358.79,744.67 362.27,743.68 365.75,740.44 369.23,738.56 372.71,735.24 376.19,733.33 379.67,734.16 383.16,732.39 386.64,730.54 390.12,728.85 393.6,724.61 397.08,720.84 400.56,720.23 404.04,719.42 407.52,716.51 411,715.04 414.49,712.81 417.97,710.21 421.45,709.73 424.93,708.4 428.41,705.93 431.89,703.59 435.37,703.36 438.85,698.58 442.33,696.66 445.81,693.94 449.29,691.99 452.78,691.52 456.26,689.48 459.74,687.81 463.22,684.61 466.7,685.35"/>
<polyline fill="none" stroke="#2ca02c" stroke-width="1.2" stroke-opacity="0.9" stroke-linejoin="round" points="118.6,836.8 122.08,836.8 125.56,836.8 129.04,836.8 132.52,836.8 136,836.8 139.49,836.8 142.97,836.8 146.45,836.8 149.93,836.8 153.41,836.8 156.89,836.8 160.37,836.8 163.85,836.8 167.33,836.8 170.81,836.8 174.3,836.8 177.78,836.8 181.26,836.8 184.74,836.8 188.22,836.8 191.7,836.22 195.18,835.63 198.66,835.05 202.14,835.45 205.62,833.82 209.11,832.78 212.59,831.04 216.07,830.74 219.55,829.72 223.03,828.15 226.51,827.19 229.99,825.27 233.47,825.22 236.95,821.48 240.44,820.77 243.92,820.34 247.4,818.15 250.88,815.98 254.36,814.06 257.84,812.94 261.32,806.57 264.8,802.02 268.28,799.55 271.76,795.39 275.25,792.52 278.73,789.2 282.21,785.91 285.69,783.6 289.17,779.31 292.65,778.28 296.13,775.47 299.61,769.35 303.09,768.31 306.57,767.27 310.06,763.77 313.54,762.99 317.02,759.04 320.5,755.25 323.98,753.22 327.46,751.36 330.94,750.47 334.42,747.96 337.9,746.39 341.38,742.33 344.87,740.89 348.35,738.19 351.83,738.65 355.31,738.04 358.79,735.28 362.27,733.8 365.75,733.28 369.23,731.56 372.71,729.19 376.19,727.1 379.67,726.37 383.16,723.13 386.64,721.3 390.12,719.99 393.6,717.4 397.08,714.03 400.56,712.47 404.04,709.51 407.52,706.74 411,705.74 414.49,701.63 417.97,699.82 421.45,698.74 424.93,699.4 428.41,696.82 431.89,693.16 435.37,689.72 438.85,687.87 442.33,684.99 445.81,681.99 449.29,679.75 452.78,678.65 456.26,676.06 459.74,673.56 463.22,673.19 466.7,668.81"/>
<polyline fill="none" stroke="#d62728" stroke-width="1.2" stroke-opacity="0.9" stroke-linejoin="round" points="118.6,836.8 122.08,836.8 125.56,836.8 129.04,836.8 132.52,836.8 136,836.8 139.49,836.8 142.97,836.8 146.45,836.8 149.93,836.8 153.41,836.8 156.89,836.8 160.37,836.8 163.85,836.8 167.33,836.8 170.81,836.8 174.3,836.8 177.78,836.63 181.26,836.11 184.74,835.59 188.22,835.07 191.7,832.3 195.18,831.2 198.66,829.8 202.14,829.21 205.62,828.73 209.11,825.43 212.59,825.45 216.07,822.59 219.55,820.66 223.03,820.39 226.51,818.32 229.99,814.58 233.47,813.21 236.95,812.88 240.44,810.89 243.92,808.63 247.4,804.11 250.88,802.23 254.36,802.1 257.84,797.8 261.32,794.4 264.8,792.48 268.28,790.51 271.76,786.98 275.25,785.35 278.73,782.44 282.21,775.88 285.69,773.3 289.17,770.09 292.65,766.23 296.13,765.43 299.61,761.71 303.09,758.37 306.57,756.63 310.06,753 313.54,749.75 317.02,746.79 320.5,742.59 323.98,740.49 327.46,736.87 330.94,734.08 334.42,727.75 337.9,725.58 341.38,721.36 344.87,717.07 348.35,712.48 351.83,711.64 355.31,707.76 358.79,706.71 362.27,704.28 365.75,701.96 369.23,701.98 372.71,699.5 376.19,699.13 379.67,698.52 383.16,694.89 386.64,695.67 390.12,693.57 393.6,689.16 397.08,686.06 400.56,683.15 404.04,679.9 407.52,677.63 411,674.76 414.49,674.71 417.97,671.2 421.45,670.1 424.93,667.93 428.41,664.27 431.89,662.86 435.37,660.46 438.85,657.61 442.33,654.78 445.81,653.75 449.29,650.73 452.78,648.58 456.26,645.97 459.74,642.81 463.22,641.83 466.7,639.86"/>
<polyline fill="none" stroke="#9467bd" stroke-width="1.2" stroke-opacity="0.9" stroke-linejoin="round" points="118.6,836.8 122.08,836.8 125.56,836.8 129.04,836.8 132.52,836.8 136,836.8 139.49,836.8 142.97,836.8 146.45,836.8 149.93,836.8 153.41,836.8 156.89,836.54 160.37,836.28 163.85,836.02 167.33,835.52 170.81,834.89 174.3,834.27 177.78,833.71 181.26,831.07 184.74,830.11 188.22,827.86 191.7,826.23 195.18,826.93 198.66,824.58 202.14,821.67 205.62,820.08 209.11,820.35 212.59,818.49 216.07,815.58 219.55,814.82 223.03,812.09 226.51,810.39 229.99,806.33 233.47,803.76 236.95,801.2 240.44,800.98 243.92,796.43 247.4,793.79 250.88,792.59 254.36,787.48 257.84,784.41 261.32,782.63 264.8,776.24 268.28,773.86 271.76,769.48 275.25,763.81 278.73,759.55 282.21,756.31 285.69,750.16 289.17,744.58 292.65,744.83 296.13,746.23 299.61,741.92 303.09,736.73 306.57,734.99 310.06,729.62 313.54,726.89 317.02,725.12 320.5,721.47 323.98,718.35 327.46,716.48 330.94,715.25 334.42,709.62 337.9,707.45 341.38,703.45 344.87,702.67 348.35,698.56 351.83,695.07 355.31,688.58 358.79,688.65 362.27,687.77 365.75,685.54 369.23,682.79 372.71,681.9 376.19,681.24 379.67,677.78 383.16,671.63 386.64,669.16 390.12,665.77 393.6,664.68 397.08,661.86 400.56,657.03 404.04,655.12 407.52,653.93 411,648.96 414.49,647.96 417.97,645.5 421.45,645.86 424.93,641.73 428.41,642.46 431.89,638.22 435.37,637.64 438.85,636.14 442.33,634.18 445.81,631.73 449.29,633.34 452.78,633.34 456.26,631.74 459.74,632.26 463.22,631.85 466.7,630.65"/>
<polyline fill="none" stroke="#8c564b" stroke-width="1.2" stroke-opacity="0.9" stroke-linejoin="round" points="118.6,836.8 122.08,836.8 125.56,836.8 129.04,836.8 132.52,836.8 136,836.8 139.49,836.8 142.97,836.8 146.45,836.8 149.93,836.49 153.41,836.19 156.89,835.88 160.37,835.54 163.85,834.72 167.33,835.29 170.81,833.92 174.3,832.53 177.78,831.51 181.26,828.55 184.74,828.05 188.22,825.42 191.7,824.36 195.18,821.38 198.66,819.94 202.14,817.19 205.62,816.18 209.11,812.2 212.59,810.87 216.07,809.8 219.55,806.72 223.03,803.1 226.51,802.92 229.99,797.14 233.47,794.77 236.95,791 240.44,786.53 243.92,784.62 247.4,781 250.88,777.16 254.36,772.96 257.84,771.68 261.32,767.03 264.8,764.29 268.28,761.39 271.76,758.68 275.25,753.46 278.73,750.7 282.21,748.31 285.69,746.33 289.17,741.3 292.65,741.78 296.13,741.58 299.61,738.71 303.09,733.23 306.57,730.02 310.06,727.53 313.54,725.66 317.02,722.7 320.5,720.01 323.98,717.6 327.46,716.64 330.94,711.62 334.42,707.25 337.9,700.15 341.38,698.76 344.87,698.97 348.35,698.08 351.83,691.07 355.31,688.35 358.79,686.9 362.27,686.95 365.75,684.71 369.23,683.41 372.71,682.35 376.19,679.74 379.67,673.36 383.16,671.58 386.64,667.26 390.12,663.81 393.6,658.87 397.08,656.01 400.56,652.12 404.04,647.62 407.52,645.14 411,642 414.49,640.44 417.97,639.47 421.45,640.19 424.93,639.17 428.41,637.18 431.89,637.1 435.37,635.44 438.85,631.55 442.33,632.42 445.81,628.9 449.29,629.59 452.78,631.88 456.26,629.42 459.74,629.25 463.22,627.19 466.7,621.97"/>
<g transform="translate(363.5,795.5) rotate(-73)"><rect x="-4" y="-20" width="130" height="31" fill="#fff" fill-opacity="0.5"/></g>
<path d="M331.2 803.5 C343 783 358 745 366 712 C370 694 374.5 675 377.3 660.5" fill="none" stroke="#000" stroke-width="2.2"/>
<path d="M372.8 666.5 L377.4 659.8 L381.6 667.2" fill="none" stroke="#000" stroke-width="2.2" stroke-linejoin="miter"/>
<g transform="translate(363.5,795.5) rotate(-73)"><text x="0" y="0" font-family="Liberation Sans" font-size="15.5" fill="#111" textLength="46" lengthAdjust="spacingAndGlyphs" stroke="#111" stroke-width="0.22">50 mA</text><path d="M48.5 -5.2 H63 M57.5 -10 L63.3 -5.2 L57.5 -0.4" fill="none" stroke="#111" stroke-width="1.4"/><text x="65.5" y="0" font-family="Liberation Sans" font-size="15.5" fill="#111" textLength="55.3" lengthAdjust="spacingAndGlyphs" stroke="#111" stroke-width="0.22">120 mA</text></g>
<rect x="118.6" y="577.8" width="348.1" height="259" fill="none" stroke="#3a3a3a" stroke-width="1"/>
<line x1="118.6" y1="836.8" x2="118.6" y2="840.3" stroke="#3a3a3a" stroke-width="0.9"/>
<text x="118.6" y="855.8" font-family="Liberation Sans" font-size="15.5" fill="#1a1a1a" text-anchor="middle" textLength="8.6" lengthAdjust="spacingAndGlyphs" stroke="#1a1a1a" stroke-width="0.22">0</text>
<line x1="165.01" y1="836.8" x2="165.01" y2="840.3" stroke="#3a3a3a" stroke-width="0.9"/>
<text x="165.01" y="855.8" font-family="Liberation Sans" font-size="15.5" fill="#1a1a1a" text-anchor="middle" textLength="17.4" lengthAdjust="spacingAndGlyphs" stroke="#1a1a1a" stroke-width="0.22">20</text>
<line x1="211.43" y1="836.8" x2="211.43" y2="840.3" stroke="#3a3a3a" stroke-width="0.9"/>
<text x="211.43" y="855.8" font-family="Liberation Sans" font-size="15.5" fill="#1a1a1a" text-anchor="middle" textLength="17.4" lengthAdjust="spacingAndGlyphs" stroke="#1a1a1a" stroke-width="0.22">40</text>
<line x1="257.84" y1="836.8" x2="257.84" y2="840.3" stroke="#3a3a3a" stroke-width="0.9"/>
<text x="257.84" y="855.8" font-family="Liberation Sans" font-size="15.5" fill="#1a1a1a" text-anchor="middle" textLength="17.4" lengthAdjust="spacingAndGlyphs" stroke="#1a1a1a" stroke-width="0.22">60</text>
<line x1="304.25" y1="836.8" x2="304.25" y2="840.3" stroke="#3a3a3a" stroke-width="0.9"/>
<text x="304.25" y="855.8" font-family="Liberation Sans" font-size="15.5" fill="#1a1a1a" text-anchor="middle" textLength="17.4" lengthAdjust="spacingAndGlyphs" stroke="#1a1a1a" stroke-width="0.22">80</text>
<line x1="350.67" y1="836.8" x2="350.67" y2="840.3" stroke="#3a3a3a" stroke-width="0.9"/>
<text x="350.67" y="855.8" font-family="Liberation Sans" font-size="15.5" fill="#1a1a1a" text-anchor="middle" textLength="28.3" lengthAdjust="spacingAndGlyphs" stroke="#1a1a1a" stroke-width="0.22">100</text>
<line x1="397.08" y1="836.8" x2="397.08" y2="840.3" stroke="#3a3a3a" stroke-width="0.9"/>
<text x="397.08" y="855.8" font-family="Liberation Sans" font-size="15.5" fill="#1a1a1a" text-anchor="middle" textLength="28.3" lengthAdjust="spacingAndGlyphs" stroke="#1a1a1a" stroke-width="0.22">120</text>
<line x1="443.49" y1="836.8" x2="443.49" y2="840.3" stroke="#3a3a3a" stroke-width="0.9"/>
<text x="443.49" y="855.8" font-family="Liberation Sans" font-size="15.5" fill="#1a1a1a" text-anchor="middle" textLength="28.3" lengthAdjust="spacingAndGlyphs" stroke="#1a1a1a" stroke-width="0.22">140</text>
<line x1="118.6" y1="836.8" x2="115.1" y2="836.8" stroke="#3a3a3a" stroke-width="0.9"/>
<text x="111.5" y="843.2" font-family="Liberation Sans" font-size="15.5" fill="#1a1a1a" text-anchor="end" textLength="8.6" lengthAdjust="spacingAndGlyphs" stroke="#1a1a1a" stroke-width="0.22">0</text>
<line x1="118.6" y1="793.63" x2="115.1" y2="793.63" stroke="#3a3a3a" stroke-width="0.9"/>
<text x="111.5" y="800.03" font-family="Liberation Sans" font-size="15.5" fill="#1a1a1a" text-anchor="end" textLength="8.6" lengthAdjust="spacingAndGlyphs" stroke="#1a1a1a" stroke-width="0.22">5</text>
<line x1="118.6" y1="750.47" x2="115.1" y2="750.47" stroke="#3a3a3a" stroke-width="0.9"/>
<text x="111.5" y="756.87" font-family="Liberation Sans" font-size="15.5" fill="#1a1a1a" text-anchor="end" textLength="17.4" lengthAdjust="spacingAndGlyphs" stroke="#1a1a1a" stroke-width="0.22">10</text>
<line x1="118.6" y1="707.3" x2="115.1" y2="707.3" stroke="#3a3a3a" stroke-width="0.9"/>
<text x="111.5" y="713.7" font-family="Liberation Sans" font-size="15.5" fill="#1a1a1a" text-anchor="end" textLength="17.4" lengthAdjust="spacingAndGlyphs" stroke="#1a1a1a" stroke-width="0.22">15</text>
<line x1="118.6" y1="664.13" x2="115.1" y2="664.13" stroke="#3a3a3a" stroke-width="0.9"/>
<text x="111.5" y="670.53" font-family="Liberation Sans" font-size="15.5" fill="#1a1a1a" text-anchor="end" textLength="17.4" lengthAdjust="spacingAndGlyphs" stroke="#1a1a1a" stroke-width="0.22">20</text>
<line x1="118.6" y1="620.97" x2="115.1" y2="620.97" stroke="#3a3a3a" stroke-width="0.9"/>
<text x="111.5" y="627.37" font-family="Liberation Sans" font-size="15.5" fill="#1a1a1a" text-anchor="end" textLength="17.4" lengthAdjust="spacingAndGlyphs" stroke="#1a1a1a" stroke-width="0.22">25</text>
<line x1="118.6" y1="577.8" x2="115.1" y2="577.8" stroke="#3a3a3a" stroke-width="0.9"/>
<text x="111.5" y="584.2" font-family="Liberation Sans" font-size="15.5" fill="#1a1a1a" text-anchor="end" textLength="17.4" lengthAdjust="spacingAndGlyphs" stroke="#1a1a1a" stroke-width="0.22">30</text>
<rect x="118.8" y="577" width="134.5" height="136" rx="3" fill="#fff" fill-opacity="0.82" stroke="#d8d8d8" stroke-width="0.9"/>
<line x1="123" y1="590" x2="152.3" y2="590" stroke="#1f77b4" stroke-width="1.3" stroke-opacity="0.9"/>
<text x="163.3" y="594.4" font-family="Liberation Sans" font-size="14.5" fill="#1a1a1a" font-style="italic" stroke="#1a1a1a" stroke-width="0.22">I</text>
<text x="167.7" y="597.2" font-family="Liberation Sans" font-size="10.2" fill="#1a1a1a" textLength="18.8" lengthAdjust="spacingAndGlyphs" font-style="italic" stroke="#1a1a1a" stroke-width="0.22">DFB</text>
<text x="188.5" y="594.4" font-family="Liberation Sans" font-size="14.5" fill="#1a1a1a" textLength="49.5" lengthAdjust="spacingAndGlyphs" stroke="#1a1a1a" stroke-width="0.22">:50 mA</text>
<line x1="123" y1="611.5" x2="152.3" y2="611.5" stroke="#ff7f0e" stroke-width="1.3" stroke-opacity="0.9"/>
<text x="163.3" y="615.9" font-family="Liberation Sans" font-size="14.5" fill="#1a1a1a" font-style="italic" stroke="#1a1a1a" stroke-width="0.22">I</text>
<text x="167.7" y="618.7" font-family="Liberation Sans" font-size="10.2" fill="#1a1a1a" textLength="18.8" lengthAdjust="spacingAndGlyphs" font-style="italic" stroke="#1a1a1a" stroke-width="0.22">DFB</text>
<text x="188.5" y="615.9" font-family="Liberation Sans" font-size="14.5" fill="#1a1a1a" textLength="49.5" lengthAdjust="spacingAndGlyphs" stroke="#1a1a1a" stroke-width="0.22">:60 mA</text>
<line x1="123" y1="633" x2="152.3" y2="633" stroke="#2ca02c" stroke-width="1.3" stroke-opacity="0.9"/>
<text x="163.3" y="637.4" font-family="Liberation Sans" font-size="14.5" fill="#1a1a1a" font-style="italic" stroke="#1a1a1a" stroke-width="0.22">I</text>
<text x="167.7" y="640.2" font-family="Liberation Sans" font-size="10.2" fill="#1a1a1a" textLength="18.8" lengthAdjust="spacingAndGlyphs" font-style="italic" stroke="#1a1a1a" stroke-width="0.22">DFB</text>
<text x="188.5" y="637.4" font-family="Liberation Sans" font-size="14.5" fill="#1a1a1a" textLength="49.5" lengthAdjust="spacingAndGlyphs" stroke="#1a1a1a" stroke-width="0.22">:70 mA</text>
<line x1="123" y1="654.5" x2="152.3" y2="654.5" stroke="#d62728" stroke-width="1.3" stroke-opacity="0.9"/>
<text x="163.3" y="658.9" font-family="Liberation Sans" font-size="14.5" fill="#1a1a1a" font-style="italic" stroke="#1a1a1a" stroke-width="0.22">I</text>
<text x="167.7" y="661.7" font-family="Liberation Sans" font-size="10.2" fill="#1a1a1a" textLength="18.8" lengthAdjust="spacingAndGlyphs" font-style="italic" stroke="#1a1a1a" stroke-width="0.22">DFB</text>
<text x="188.5" y="658.9" font-family="Liberation Sans" font-size="14.5" fill="#1a1a1a" textLength="49.5" lengthAdjust="spacingAndGlyphs" stroke="#1a1a1a" stroke-width="0.22">:80 mA</text>
<line x1="123" y1="676" x2="152.3" y2="676" stroke="#9467bd" stroke-width="1.3" stroke-opacity="0.9"/>
<text x="163.3" y="680.4" font-family="Liberation Sans" font-size="14.5" fill="#1a1a1a" font-style="italic" stroke="#1a1a1a" stroke-width="0.22">I</text>
<text x="167.7" y="683.2" font-family="Liberation Sans" font-size="10.2" fill="#1a1a1a" textLength="18.8" lengthAdjust="spacingAndGlyphs" font-style="italic" stroke="#1a1a1a" stroke-width="0.22">DFB</text>
<text x="188.5" y="680.4" font-family="Liberation Sans" font-size="14.5" fill="#1a1a1a" textLength="58.5" lengthAdjust="spacingAndGlyphs" stroke="#1a1a1a" stroke-width="0.22">:100 mA</text>
<line x1="123" y1="697.5" x2="152.3" y2="697.5" stroke="#8c564b" stroke-width="1.3" stroke-opacity="0.9"/>
<text x="163.3" y="701.9" font-family="Liberation Sans" font-size="14.5" fill="#1a1a1a" font-style="italic" stroke="#1a1a1a" stroke-width="0.22">I</text>
<text x="167.7" y="704.7" font-family="Liberation Sans" font-size="10.2" fill="#1a1a1a" textLength="18.8" lengthAdjust="spacingAndGlyphs" font-style="italic" stroke="#1a1a1a" stroke-width="0.22">DFB</text>
<text x="188.5" y="701.9" font-family="Liberation Sans" font-size="14.5" fill="#1a1a1a" textLength="58.5" lengthAdjust="spacingAndGlyphs" stroke="#1a1a1a" stroke-width="0.22">:120 mA</text>
<g transform="translate(85.7,709.2) rotate(-90)"><text x="0" y="0" font-family="Liberation Sans" font-size="20.8" fill="#1a1a1a" text-anchor="middle" textLength="250.5" lengthAdjust="spacingAndGlyphs" stroke="#1a1a1a" stroke-width="0.22">WG coupled power (mW)</text></g>
<text x="238.5" y="878.8" font-family="Liberation Sans" font-size="18.7" fill="#1a1a1a" font-style="italic" stroke="#1a1a1a" stroke-width="0.22">I</text>
<text x="243.6" y="879.9" font-family="Liberation Sans" font-size="13.2" fill="#1a1a1a" textLength="53.3" lengthAdjust="spacingAndGlyphs" font-style="italic" stroke="#1a1a1a" stroke-width="0.22">Booster</text>
<text x="298.8" y="878.8" font-family="Liberation Sans" font-size="18.7" fill="#1a1a1a" textLength="46.6" lengthAdjust="spacingAndGlyphs" font-style="italic" stroke="#1a1a1a" stroke-width="0.22">(mA)</text>
<text x="32.2" y="910.5" font-family="Liberation Sans" font-size="27" fill="#111" stroke="#111" stroke-width="0.22">(</text>
<text x="42" y="910.5" font-family="Liberation Sans" font-size="27" fill="#111" textLength="11.5" lengthAdjust="spacingAndGlyphs" stroke="#111" stroke-width="0.22">c</text>
<text x="55.2" y="910.5" font-family="Liberation Sans" font-size="27" fill="#111" stroke="#111" stroke-width="0.22">)</text>
<rect x="61.2" y="967.7" width="423.8" height="64.7" fill="#ebebeb"/>
<rect x="61.2" y="967.7" width="423.8" height="64.7" fill="none" stroke="#dcdcdc" stroke-width="0.8"/>
<rect x="181.7" y="925.5" width="295.6" height="42.2" fill="#fde7d0" stroke="#c8c0b8" stroke-width="0.8"/>
<rect x="181.7" y="886.9" width="295.6" height="38.6" fill="#7d2e90"/>
<rect x="277.8" y="925.4" width="3.1" height="7.6" fill="#6a2a86"/>
<rect x="284.08" y="925.4" width="3.1" height="7.6" fill="#6a2a86"/>
<rect x="290.36" y="925.4" width="3.1" height="7.6" fill="#6a2a86"/>
<rect x="296.64" y="925.4" width="3.1" height="7.6" fill="#6a2a86"/>
<rect x="302.92" y="925.4" width="3.1" height="7.6" fill="#6a2a86"/>
<rect x="309.2" y="925.4" width="3.1" height="7.6" fill="#6a2a86"/>
<rect x="315.48" y="925.4" width="3.1" height="7.6" fill="#6a2a86"/>
<rect x="321.76" y="925.4" width="3.1" height="7.6" fill="#6a2a86"/>
<rect x="328.04" y="925.4" width="3.1" height="7.6" fill="#6a2a86"/>
<rect x="334.32" y="925.4" width="3.1" height="7.6" fill="#6a2a86"/>
<rect x="340.6" y="925.4" width="3.1" height="7.6" fill="#6a2a86"/>
<rect x="346.88" y="925.4" width="3.1" height="7.6" fill="#6a2a86"/>
<rect x="353.16" y="925.4" width="3.1" height="7.6" fill="#6a2a86"/>
<rect x="359.44" y="925.4" width="3.1" height="7.6" fill="#6a2a86"/>
<rect x="365.72" y="925.4" width="3.1" height="7.6" fill="#6a2a86"/>
<rect x="372" y="925.4" width="3.1" height="7.6" fill="#6a2a86"/>
<rect x="378.28" y="925.4" width="3.1" height="7.6" fill="#6a2a86"/>
<rect x="384.56" y="925.4" width="3.1" height="7.6" fill="#6a2a86"/>
<rect x="390.84" y="925.4" width="3.1" height="7.6" fill="#6a2a86"/>
<rect x="397.12" y="925.4" width="3.1" height="7.6" fill="#6a2a86"/>
<rect x="403.4" y="925.4" width="3.1" height="7.6" fill="#6a2a86"/>
<rect x="409.68" y="925.4" width="3.1" height="7.6" fill="#6a2a86"/>
<rect x="415.96" y="925.4" width="3.1" height="7.6" fill="#6a2a86"/>
<rect x="422.24" y="925.4" width="3.1" height="7.6" fill="#6a2a86"/>
<rect x="428.52" y="925.4" width="3.1" height="7.6" fill="#6a2a86"/>
<rect x="434.8" y="925.4" width="3.1" height="7.6" fill="#6a2a86"/>
<rect x="277.5" y="939.4" width="104.8" height="16" fill="#159a3e"/>
<text x="295" y="952.2" font-family="Liberation Sans" font-size="13.5" fill="#fff" textLength="64.7" lengthAdjust="spacingAndGlyphs" stroke="#fff" stroke-width="0.22">MQW core</text>
<rect x="62.3" y="983.8" width="180.2" height="23.6" fill="#166ebe"/>
<text x="119.2" y="1000.4" font-family="Liberation Sans" font-size="13.5" fill="#fff" textLength="80" lengthAdjust="spacingAndGlyphs" stroke="#fff" stroke-width="0.22">Si waveguide</text>
<text x="189.5" y="951.8" font-family="Liberation Sans" font-size="13.5" fill="#111" textLength="48.5" lengthAdjust="spacingAndGlyphs" stroke="#111" stroke-width="0.22">InP slab</text>
<text x="196.2" y="911.3" font-family="Liberation Sans" font-size="13.5" fill="#fff" textLength="31.8" lengthAdjust="spacingAndGlyphs" stroke="#fff" stroke-width="0.22">SiON</text>
<text x="389" y="1022.6" font-family="Liberation Sans" font-size="13.5" fill="#111" textLength="82.2" lengthAdjust="spacingAndGlyphs" stroke="#111" stroke-width="0.22">SOI substrate</text>
<text x="243.8" y="981.1" font-family="Liberation Sans" font-size="12" fill="#111" textLength="38.6" lengthAdjust="spacingAndGlyphs" stroke="#111" stroke-width="0.22">100 nm</text>
<path d="M238.1 969 V982.6" stroke="#111" stroke-width="1"/>
<path d="M236 971.6 L238.1 968.4 L240.2 971.6 M236 980 L238.1 983.2 L240.2 980" stroke="#111" stroke-width="0.9" fill="none"/>
<path d="M235.6 968 H240.6 M235.6 983.6 H240.6" stroke="#111" stroke-width="0.8"/>
<path d="M277 916.4 H437.8" stroke="#f4eaf6" stroke-width="1"/>
<path d="M277 913 V920 M381.2 913 V920 M438.2 913 V920" stroke="#f4eaf6" stroke-width="1"/>
<path d="M277 916.4 L282 914.2 L282 918.6 Z" fill="#f4eaf6"/>
<path d="M381.2 916.4 L376.2 914.2 L376.2 918.6 Z" fill="#f4eaf6"/>
<path d="M381.2 916.4 L386.2 914.2 L386.2 918.6 Z" fill="#f4eaf6"/>
<path d="M438.2 916.4 L433.2 914.2 L433.2 918.6 Z" fill="#f4eaf6"/>
<text x="309" y="910.3" font-family="Liberation Sans" font-size="13.5" fill="#fff" textLength="45.8" lengthAdjust="spacingAndGlyphs" stroke="#fff" stroke-width="0.22">140 <tspan>μm</tspan></text>
<text x="391.2" y="910.3" font-family="Liberation Sans" font-size="13.5" fill="#fff" textLength="38.3" lengthAdjust="spacingAndGlyphs" stroke="#fff" stroke-width="0.22">60 μm</text>
<polyline fill="none" stroke="#2424b8" stroke-width="1.4" stroke-linejoin="round" points="130.4,1288.76 130.81,1286.27 131.22,1284.38 131.63,1282.81 132.04,1281.48 132.45,1280.34 132.86,1279.35 133.27,1278.5 133.68,1277.75 134.08,1277.08 134.49,1276.48 136.54,1274.19 138.59,1272.48 140.64,1271.01 142.68,1269.64 144.73,1268.31 146.78,1267.01 148.82,1265.73 150.87,1264.47 152.92,1263.21 154.97,1261.97 157.01,1260.74 159.06,1259.51 161.11,1258.29 163.15,1257.08 165.2,1255.88 167.25,1254.68 169.3,1253.5 171.34,1252.31 173.39,1251.13 175.44,1249.96 177.48,1248.79 179.53,1247.63 181.58,1246.48 183.63,1245.32 185.67,1244.18 187.72,1243.04 189.77,1241.9 191.81,1240.77 193.86,1239.64 195.91,1238.52 197.96,1237.4 200,1236.28 202.05,1235.17 204.1,1234.06 206.14,1232.96 208.19,1231.86 210.24,1230.77 212.29,1229.68 214.33,1228.59 216.38,1227.51 218.43,1226.43 220.47,1225.35 222.52,1224.28 224.57,1223.22 226.62,1222.15 228.66,1221.09 230.71,1220.03 232.76,1218.98 234.8,1217.93 236.85,1216.89 238.9,1215.84 240.95,1214.81 242.99,1213.77 245.04,1212.74 247.09,1211.71 249.13,1210.69 251.18,1209.67 253.23,1208.65 255.28,1207.63 257.32,1206.62 259.37,1205.62 261.42,1204.61 263.46,1203.61 265.51,1202.62 267.56,1201.62 269.61,1200.63 271.65,1199.64 273.7,1198.66 275.75,1197.68 277.79,1196.7 279.84,1195.73 281.89,1194.76 283.94,1193.79 285.98,1192.83 288.03,1191.87 290.08,1190.91 292.12,1189.95 294.17,1189 296.22,1188.06 298.27,1187.11 300.31,1186.17 302.36,1185.23 304.41,1184.3 306.45,1183.36 308.5,1182.44 310.55,1181.51 312.6,1180.59 314.64,1179.67 316.69,1178.75 318.74,1177.84 320.78,1176.93 322.83,1176.03 324.88,1175.12 326.93,1174.22 328.97,1173.33 331.02,1172.43 333.07,1171.54 335.11,1170.65 337.16,1169.77 339.21,1168.89 341.26,1168.01 343.3,1167.14 345.35,1166.26 347.4,1165.4 349.44,1164.53 351.49,1163.67 353.54,1162.81 355.59,1161.95 357.63,1161.1 359.68,1160.25 361.73,1159.4 363.77,1158.56 365.82,1157.72 367.87,1156.88 369.92,1156.04 371.96,1155.21 374.01,1154.38 376.06,1153.56 378.1,1152.74 380.15,1151.92 382.2,1151.1 384.25,1150.29 386.29,1149.48 388.34,1148.67 390.39,1147.86 392.43,1147.06 394.48,1146.27 396.53,1145.47 398.58,1144.68 400.62,1143.89 402.67,1143.1 404.72,1142.32 406.76,1141.54 408.81,1140.76 410.86,1139.99 412.91,1139.22 414.95,1138.45"/>
<polyline fill="none" stroke="#e03a44" stroke-width="1.4" stroke-linejoin="round" points="130.4,1363.5 140.64,1363.5 152.71,1362.27 161.11,1356.74 171.14,1348.45 180.56,1339.54 189.56,1330.02 195.91,1320.49 202.25,1310.35 205.73,1312.81 217.4,1304.52 227.64,1289.77 238.08,1274.72 245.04,1265.5 249.13,1256.9 254.25,1248.91 258.96,1264.27 270.02,1254.75 277.79,1243.69 286.19,1231.4 297.65,1210.82 309.12,1186.55 314.23,1206.52 323.04,1201.61 334.7,1181.94 340.44,1173.96 342.69,1163.51 345.76,1192.39 348.42,1191.78 355.38,1180.72 364.59,1162.28 371.55,1140.78 374.21,1182.25 383.22,1171.5 392.23,1150 401.44,1128.49 406.76,1117.74 409.22,1151.53 416.18,1143.85"/>
<rect x="130.4" y="1056.3" width="286.6" height="307.2" fill="none" stroke="#2a2a2a" stroke-width="1.3"/>
<line x1="130.4" y1="1363.5" x2="130.4" y2="1359" stroke="#2a2a2a" stroke-width="1"/>
<text x="130.4" y="1377.3" font-family="Liberation Sans" font-size="14" fill="#1a1a1a" text-anchor="middle" textLength="7.8" lengthAdjust="spacingAndGlyphs" stroke="#1a1a1a" stroke-width="0.22">0</text>
<line x1="150.87" y1="1363.5" x2="150.87" y2="1360.5" stroke="#2a2a2a" stroke-width="1"/>
<line x1="171.34" y1="1363.5" x2="171.34" y2="1359" stroke="#2a2a2a" stroke-width="1"/>
<text x="171.34" y="1377.3" font-family="Liberation Sans" font-size="14" fill="#1a1a1a" text-anchor="middle" textLength="7.8" lengthAdjust="spacingAndGlyphs" stroke="#1a1a1a" stroke-width="0.22">2</text>
<line x1="191.81" y1="1363.5" x2="191.81" y2="1360.5" stroke="#2a2a2a" stroke-width="1"/>
<line x1="212.29" y1="1363.5" x2="212.29" y2="1359" stroke="#2a2a2a" stroke-width="1"/>
<text x="212.29" y="1377.3" font-family="Liberation Sans" font-size="14" fill="#1a1a1a" text-anchor="middle" textLength="7.8" lengthAdjust="spacingAndGlyphs" stroke="#1a1a1a" stroke-width="0.22">4</text>
<line x1="232.76" y1="1363.5" x2="232.76" y2="1360.5" stroke="#2a2a2a" stroke-width="1"/>
<line x1="253.23" y1="1363.5" x2="253.23" y2="1359" stroke="#2a2a2a" stroke-width="1"/>
<text x="253.23" y="1377.3" font-family="Liberation Sans" font-size="14" fill="#1a1a1a" text-anchor="middle" textLength="7.8" lengthAdjust="spacingAndGlyphs" stroke="#1a1a1a" stroke-width="0.22">6</text>
<line x1="273.7" y1="1363.5" x2="273.7" y2="1360.5" stroke="#2a2a2a" stroke-width="1"/>
<line x1="294.17" y1="1363.5" x2="294.17" y2="1359" stroke="#2a2a2a" stroke-width="1"/>
<text x="294.17" y="1377.3" font-family="Liberation Sans" font-size="14" fill="#1a1a1a" text-anchor="middle" textLength="7.8" lengthAdjust="spacingAndGlyphs" stroke="#1a1a1a" stroke-width="0.22">8</text>
<line x1="314.64" y1="1363.5" x2="314.64" y2="1360.5" stroke="#2a2a2a" stroke-width="1"/>
<line x1="335.11" y1="1363.5" x2="335.11" y2="1359" stroke="#2a2a2a" stroke-width="1"/>
<text x="335.11" y="1377.3" font-family="Liberation Sans" font-size="14" fill="#1a1a1a" text-anchor="middle" textLength="15.6" lengthAdjust="spacingAndGlyphs" stroke="#1a1a1a" stroke-width="0.22">10</text>
<line x1="355.59" y1="1363.5" x2="355.59" y2="1360.5" stroke="#2a2a2a" stroke-width="1"/>
<line x1="376.06" y1="1363.5" x2="376.06" y2="1359" stroke="#2a2a2a" stroke-width="1"/>
<text x="376.06" y="1377.3" font-family="Liberation Sans" font-size="14" fill="#1a1a1a" text-anchor="middle" textLength="15.6" lengthAdjust="spacingAndGlyphs" stroke="#1a1a1a" stroke-width="0.22">12</text>
<line x1="396.53" y1="1363.5" x2="396.53" y2="1360.5" stroke="#2a2a2a" stroke-width="1"/>
<line x1="417" y1="1363.5" x2="417" y2="1359" stroke="#2a2a2a" stroke-width="1"/>
<text x="417" y="1377.3" font-family="Liberation Sans" font-size="14" fill="#1a1a1a" text-anchor="middle" textLength="15.6" lengthAdjust="spacingAndGlyphs" stroke="#1a1a1a" stroke-width="0.22">14</text>
<line x1="130.4" y1="1363.5" x2="134.9" y2="1363.5" stroke="#2a2a2a" stroke-width="1"/>
<text x="125" y="1367.1" font-family="Liberation Sans" font-size="14" fill="#1a1a1a" text-anchor="end" textLength="20" lengthAdjust="spacingAndGlyphs" stroke="#1a1a1a" stroke-width="0.22">0.0</text>
<line x1="130.4" y1="1348.14" x2="133.4" y2="1348.14" stroke="#2a2a2a" stroke-width="1"/>
<line x1="130.4" y1="1332.78" x2="133.4" y2="1332.78" stroke="#2a2a2a" stroke-width="1"/>
<line x1="130.4" y1="1317.42" x2="133.4" y2="1317.42" stroke="#2a2a2a" stroke-width="1"/>
<line x1="130.4" y1="1302.06" x2="134.9" y2="1302.06" stroke="#2a2a2a" stroke-width="1"/>
<text x="125" y="1305.66" font-family="Liberation Sans" font-size="14" fill="#1a1a1a" text-anchor="end" textLength="20" lengthAdjust="spacingAndGlyphs" stroke="#1a1a1a" stroke-width="0.22">0.2</text>
<line x1="130.4" y1="1286.7" x2="133.4" y2="1286.7" stroke="#2a2a2a" stroke-width="1"/>
<line x1="130.4" y1="1271.34" x2="133.4" y2="1271.34" stroke="#2a2a2a" stroke-width="1"/>
<line x1="130.4" y1="1255.98" x2="133.4" y2="1255.98" stroke="#2a2a2a" stroke-width="1"/>
<line x1="130.4" y1="1240.62" x2="134.9" y2="1240.62" stroke="#2a2a2a" stroke-width="1"/>
<text x="125" y="1244.22" font-family="Liberation Sans" font-size="14" fill="#1a1a1a" text-anchor="end" textLength="20" lengthAdjust="spacingAndGlyphs" stroke="#1a1a1a" stroke-width="0.22">0.4</text>
<line x1="130.4" y1="1225.26" x2="133.4" y2="1225.26" stroke="#2a2a2a" stroke-width="1"/>
<line x1="130.4" y1="1209.9" x2="133.4" y2="1209.9" stroke="#2a2a2a" stroke-width="1"/>
<line x1="130.4" y1="1194.54" x2="133.4" y2="1194.54" stroke="#2a2a2a" stroke-width="1"/>
<line x1="130.4" y1="1179.18" x2="134.9" y2="1179.18" stroke="#2a2a2a" stroke-width="1"/>
<text x="125" y="1182.78" font-family="Liberation Sans" font-size="14" fill="#1a1a1a" text-anchor="end" textLength="20" lengthAdjust="spacingAndGlyphs" stroke="#1a1a1a" stroke-width="0.22">0.6</text>
<line x1="130.4" y1="1163.82" x2="133.4" y2="1163.82" stroke="#2a2a2a" stroke-width="1"/>
<line x1="130.4" y1="1148.46" x2="133.4" y2="1148.46" stroke="#2a2a2a" stroke-width="1"/>
<line x1="130.4" y1="1133.1" x2="133.4" y2="1133.1" stroke="#2a2a2a" stroke-width="1"/>
<line x1="130.4" y1="1117.74" x2="134.9" y2="1117.74" stroke="#2a2a2a" stroke-width="1"/>
<text x="125" y="1121.34" font-family="Liberation Sans" font-size="14" fill="#1a1a1a" text-anchor="end" textLength="20" lengthAdjust="spacingAndGlyphs" stroke="#1a1a1a" stroke-width="0.22">0.8</text>
<line x1="130.4" y1="1102.38" x2="133.4" y2="1102.38" stroke="#2a2a2a" stroke-width="1"/>
<line x1="130.4" y1="1087.02" x2="133.4" y2="1087.02" stroke="#2a2a2a" stroke-width="1"/>
<line x1="130.4" y1="1071.66" x2="133.4" y2="1071.66" stroke="#2a2a2a" stroke-width="1"/>
<line x1="130.4" y1="1056.3" x2="134.9" y2="1056.3" stroke="#2a2a2a" stroke-width="1"/>
<text x="125" y="1059.9" font-family="Liberation Sans" font-size="14" fill="#1a1a1a" text-anchor="end" textLength="20" lengthAdjust="spacingAndGlyphs" stroke="#1a1a1a" stroke-width="0.22">1.0</text>
<line x1="417.0" y1="1363.5" x2="412.5" y2="1363.5" stroke="#2a2a2a" stroke-width="1"/>
<text x="423" y="1367.1" font-family="Liberation Sans" font-size="14" fill="#1a1a1a" textLength="20.3" lengthAdjust="spacingAndGlyphs" stroke="#1a1a1a" stroke-width="0.22">0.0</text>
<line x1="417.0" y1="1353.26" x2="414" y2="1353.26" stroke="#2a2a2a" stroke-width="1"/>
<line x1="417.0" y1="1343.02" x2="414" y2="1343.02" stroke="#2a2a2a" stroke-width="1"/>
<line x1="417.0" y1="1332.78" x2="414" y2="1332.78" stroke="#2a2a2a" stroke-width="1"/>
<line x1="417.0" y1="1322.54" x2="414" y2="1322.54" stroke="#2a2a2a" stroke-width="1"/>
<line x1="417.0" y1="1312.3" x2="412.5" y2="1312.3" stroke="#2a2a2a" stroke-width="1"/>
<text x="423" y="1315.9" font-family="Liberation Sans" font-size="14" fill="#1a1a1a" textLength="20.3" lengthAdjust="spacingAndGlyphs" stroke="#1a1a1a" stroke-width="0.22">0.5</text>
<line x1="417.0" y1="1302.06" x2="414" y2="1302.06" stroke="#2a2a2a" stroke-width="1"/>
<line x1="417.0" y1="1291.82" x2="414" y2="1291.82" stroke="#2a2a2a" stroke-width="1"/>
<line x1="417.0" y1="1281.58" x2="414" y2="1281.58" stroke="#2a2a2a" stroke-width="1"/>
<line x1="417.0" y1="1271.34" x2="414" y2="1271.34" stroke="#2a2a2a" stroke-width="1"/>
<line x1="417.0" y1="1261.1" x2="412.5" y2="1261.1" stroke="#2a2a2a" stroke-width="1"/>
<text x="423" y="1264.7" font-family="Liberation Sans" font-size="14" fill="#1a1a1a" textLength="20.3" lengthAdjust="spacingAndGlyphs" stroke="#1a1a1a" stroke-width="0.22">1.0</text>
<line x1="417.0" y1="1250.86" x2="414" y2="1250.86" stroke="#2a2a2a" stroke-width="1"/>
<line x1="417.0" y1="1240.62" x2="414" y2="1240.62" stroke="#2a2a2a" stroke-width="1"/>
<line x1="417.0" y1="1230.38" x2="414" y2="1230.38" stroke="#2a2a2a" stroke-width="1"/>
<line x1="417.0" y1="1220.14" x2="414" y2="1220.14" stroke="#2a2a2a" stroke-width="1"/>
<line x1="417.0" y1="1209.9" x2="412.5" y2="1209.9" stroke="#2a2a2a" stroke-width="1"/>
<text x="423" y="1213.5" font-family="Liberation Sans" font-size="14" fill="#1a1a1a" textLength="20.3" lengthAdjust="spacingAndGlyphs" stroke="#1a1a1a" stroke-width="0.22">1.5</text>
<line x1="417.0" y1="1199.66" x2="414" y2="1199.66" stroke="#2a2a2a" stroke-width="1"/>
<line x1="417.0" y1="1189.42" x2="414" y2="1189.42" stroke="#2a2a2a" stroke-width="1"/>
<line x1="417.0" y1="1179.18" x2="414" y2="1179.18" stroke="#2a2a2a" stroke-width="1"/>
<line x1="417.0" y1="1168.94" x2="414" y2="1168.94" stroke="#2a2a2a" stroke-width="1"/>
<line x1="417.0" y1="1158.7" x2="412.5" y2="1158.7" stroke="#2a2a2a" stroke-width="1"/>
<text x="423" y="1162.3" font-family="Liberation Sans" font-size="14" fill="#1a1a1a" textLength="20.3" lengthAdjust="spacingAndGlyphs" stroke="#1a1a1a" stroke-width="0.22">2.0</text>
<line x1="417.0" y1="1148.46" x2="414" y2="1148.46" stroke="#2a2a2a" stroke-width="1"/>
<line x1="417.0" y1="1138.22" x2="414" y2="1138.22" stroke="#2a2a2a" stroke-width="1"/>
<line x1="417.0" y1="1127.98" x2="414" y2="1127.98" stroke="#2a2a2a" stroke-width="1"/>
<line x1="417.0" y1="1117.74" x2="414" y2="1117.74" stroke="#2a2a2a" stroke-width="1"/>
<line x1="417.0" y1="1107.5" x2="412.5" y2="1107.5" stroke="#2a2a2a" stroke-width="1"/>
<text x="423" y="1111.1" font-family="Liberation Sans" font-size="14" fill="#1a1a1a" textLength="20.3" lengthAdjust="spacingAndGlyphs" stroke="#1a1a1a" stroke-width="0.22">2.5</text>
<line x1="417.0" y1="1097.26" x2="414" y2="1097.26" stroke="#2a2a2a" stroke-width="1"/>
<line x1="417.0" y1="1087.02" x2="414" y2="1087.02" stroke="#2a2a2a" stroke-width="1"/>
<line x1="417.0" y1="1076.78" x2="414" y2="1076.78" stroke="#2a2a2a" stroke-width="1"/>
<line x1="417.0" y1="1066.54" x2="414" y2="1066.54" stroke="#2a2a2a" stroke-width="1"/>
<line x1="417.0" y1="1056.3" x2="412.5" y2="1056.3" stroke="#2a2a2a" stroke-width="1"/>
<text x="423" y="1059.9" font-family="Liberation Sans" font-size="14" fill="#1a1a1a" textLength="20.3" lengthAdjust="spacingAndGlyphs" stroke="#1a1a1a" stroke-width="0.22">3.0</text>
<line x1="157.1" y1="1083.9" x2="185.6" y2="1083.9" stroke="#e03a44" stroke-width="1.4"/>
<text x="189.8" y="1088.6" font-family="Liberation Sans" font-size="12.5" fill="#e03a44" textLength="71.6" lengthAdjust="spacingAndGlyphs" stroke="#e03a44" stroke-width="0.22">Output power</text>
<line x1="157.1" y1="1116.6" x2="185.6" y2="1116.6" stroke="#2424b8" stroke-width="1.4"/>
<text x="189.8" y="1121.3" font-family="Liberation Sans" font-size="12.5" fill="#2424b8" textLength="40.6" lengthAdjust="spacingAndGlyphs" stroke="#2424b8" stroke-width="0.22">Voltage</text>
<text x="239.6" y="1403.1" font-family="Liberation Sans" font-size="15" fill="#1a1a1a" textLength="84.3" lengthAdjust="spacingAndGlyphs" stroke="#1a1a1a" stroke-width="0.22">Current [mA]</text>
<g transform="translate(85.6,1210.1) rotate(-90)"><text x="0" y="0" font-family="Liberation Sans" font-size="14.4" fill="#1a1a1a" text-anchor="middle" textLength="131.8" lengthAdjust="spacingAndGlyphs" stroke="#1a1a1a" stroke-width="0.22">Output power [mW]</text></g>
<g transform="translate(464.6,1212.3) rotate(-90)"><text x="0" y="0" font-family="Liberation Sans" font-size="14.4" fill="#1a1a1a" text-anchor="middle" textLength="74" lengthAdjust="spacingAndGlyphs" stroke="#1a1a1a" stroke-width="0.22">Voltage [V]</text></g>
</svg>
</body></html>
